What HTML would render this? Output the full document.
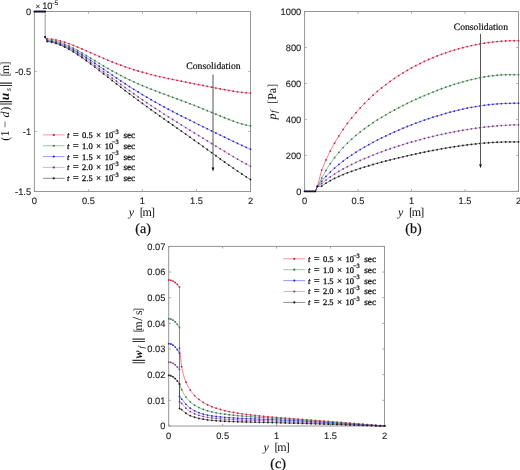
<!DOCTYPE html>
<html><head><meta charset="utf-8"><title>Consolidation plots</title>
<style>
html,body{margin:0;padding:0;background:#fff;width:520px;height:470px;overflow:hidden}
svg{display:block}
text{text-rendering:geometricPrecision}
.tk{font-family:"Liberation Sans",sans-serif;font-size:9.3px;fill:#1e1e1e;stroke:#1e1e1e;stroke-width:0.12px}
.lg{font-family:"Liberation Serif",serif;font-size:8.5px;fill:#111;stroke:#111;stroke-width:0.3px}
.lg .op{font-size:10.5px}
.lg .op2{font-size:9px}
.lg .sup{font-size:6.4px}
.cs{font-family:"Liberation Serif",serif;font-size:9.7px;fill:#111;stroke:#111;stroke-width:0.2px}
.al{font-family:"Liberation Serif",serif;font-size:12px;fill:#111}
.nm{font-family:"DejaVu Serif",serif;font-size:12.5px;fill:#333}
.cap{font-family:"Liberation Serif",serif;font-size:14px;fill:#111;stroke:#111;stroke-width:0.25px}
</style></head><body>
<svg width="520" height="470" viewBox="0 0 520 470">
<rect width="520" height="470" fill="#fff"/>
<rect x="34.4" y="11.5" width="216.1" height="180" fill="none" stroke="#969696" stroke-width="1"/>
<path d="M34.4,191.5v-2.2M34.4,11.5v2.2" stroke="#969696" stroke-width="0.8"/>
<text x="34.4" y="204.3" class="tk" text-anchor="middle">0</text>
<path d="M88.42,191.5v-2.2M88.42,11.5v2.2" stroke="#969696" stroke-width="0.8"/>
<text x="88.42" y="204.3" class="tk" text-anchor="middle">0.5</text>
<path d="M142.45,191.5v-2.2M142.45,11.5v2.2" stroke="#969696" stroke-width="0.8"/>
<text x="142.45" y="204.3" class="tk" text-anchor="middle">1</text>
<path d="M196.47,191.5v-2.2M196.47,11.5v2.2" stroke="#969696" stroke-width="0.8"/>
<text x="196.47" y="204.3" class="tk" text-anchor="middle">1.5</text>
<path d="M250.5,191.5v-2.2M250.5,11.5v2.2" stroke="#969696" stroke-width="0.8"/>
<text x="250.5" y="204.3" class="tk" text-anchor="middle">2</text>
<path d="M34.4,11.5h2.2M250.5,11.5h-2.2" stroke="#969696" stroke-width="0.8"/>
<text x="31.1" y="14.9" class="tk" text-anchor="end">0</text>
<path d="M34.4,71.5h2.2M250.5,71.5h-2.2" stroke="#969696" stroke-width="0.8"/>
<text x="31.1" y="74.9" class="tk" text-anchor="end">-0.5</text>
<path d="M34.4,131.5h2.2M250.5,131.5h-2.2" stroke="#969696" stroke-width="0.8"/>
<text x="31.1" y="134.9" class="tk" text-anchor="end">-1</text>
<path d="M34.4,191.5h2.2M250.5,191.5h-2.2" stroke="#969696" stroke-width="0.8"/>
<text x="31.1" y="194.9" class="tk" text-anchor="end">-1.5</text>
<path d="M45.2,36.94 47.37,38.86 48.39,38.91 49.41,38.98 50.43,39.07 51.45,39.19 52.47,39.32 53.49,39.47 54.51,39.65 55.53,39.84 56.55,40.05 57.57,40.27 58.59,40.51 59.62,40.76 60.64,41.03 61.66,41.32 62.68,41.61 63.7,41.92 64.72,42.24 65.74,42.57 66.76,42.92 67.78,43.27 68.8,43.63 69.82,44 70.84,44.38 71.86,44.77 72.89,45.16 73.91,45.56 74.93,45.97 75.95,46.38 76.97,46.8 77.99,47.22 79.01,47.65 80.03,48.08 81.05,48.52 82.07,48.96 83.09,49.4 84.11,49.84 85.13,50.29 86.16,50.74 87.18,51.19 88.2,51.64 89.22,52.09 90.24,52.54 91.26,53 92.28,53.45 93.3,53.9 94.32,54.35 95.34,54.81 96.36,55.26 97.38,55.7 98.4,56.15 99.43,56.6 100.45,57.04 101.47,57.48 102.49,57.92 103.51,58.36 104.53,58.79 105.55,59.22 106.57,59.65 107.59,60.08 108.61,60.5 109.63,60.92 110.65,61.34 111.67,61.75 112.7,62.16 113.72,62.56 114.74,62.96 115.76,63.36 116.78,63.75 117.8,64.14 118.82,64.53 119.84,64.91 120.86,65.28 121.88,65.66 122.9,66.02 123.92,66.39 124.94,66.75 125.97,67.1 126.99,67.45 128.01,67.8 129.03,68.14 130.05,68.48 131.07,68.82 132.09,69.15 133.11,69.47 134.13,69.79 135.15,70.11 136.17,70.42 137.19,70.73 138.21,71.04 139.24,71.34 140.26,71.64 141.28,71.93 142.3,72.22 143.32,72.5 144.34,72.79 145.36,73.06 146.38,73.34 147.4,73.61 148.42,73.88 149.44,74.14 150.46,74.4 151.48,74.66 152.51,74.92 153.53,75.17 154.55,75.42 155.57,75.66 156.59,75.91 157.61,76.15 158.63,76.38 159.65,76.62 160.67,76.85 161.69,77.09 162.71,77.31 163.73,77.54 164.75,77.77 165.78,77.99 166.8,78.21 167.82,78.43 168.84,78.65 169.86,78.86 170.88,79.08 171.9,79.29 172.92,79.5 173.94,79.71 174.96,79.92 175.98,80.13 177,80.34 178.03,80.55 179.05,80.75 180.07,80.96 181.09,81.16 182.11,81.37 183.13,81.57 184.15,81.77 185.17,81.98 186.19,82.18 187.21,82.38 188.23,82.58 189.25,82.79 190.27,82.99 191.3,83.19 192.32,83.39 193.34,83.59 194.36,83.79 195.38,84 196.4,84.2 197.42,84.4 198.44,84.6 199.46,84.8 200.48,85.01 201.5,85.21 202.52,85.41 203.54,85.61 204.57,85.81 205.59,86.02 206.61,86.22 207.63,86.42 208.65,86.62 209.67,86.82 210.69,87.03 211.71,87.23 212.73,87.43 213.75,87.63 214.77,87.83 215.79,88.03 216.81,88.22 217.84,88.42 218.86,88.62 219.88,88.81 220.9,89.01 221.92,89.2 222.94,89.39 223.96,89.58 224.98,89.76 226,89.95 227.02,90.13 228.04,90.31 229.06,90.49 230.08,90.66 231.11,90.83 232.13,91 233.15,91.16 234.17,91.32 235.19,91.48 236.21,91.63 237.23,91.77 238.25,91.92 239.27,92.05 240.29,92.18 241.31,92.3 242.33,92.42 243.35,92.53 244.38,92.63 245.4,92.73 246.42,92.82 247.44,92.9 248.46,92.97 249.48,93.03 250.5,93.08" fill="none" stroke="#f04060" stroke-width="0.8" stroke-opacity="0.85"/>
<path d="M45.2,36.94 47.37,40.13 48.39,40.14 49.41,40.18 50.43,40.26 51.45,40.37 52.47,40.5 53.49,40.67 54.51,40.86 55.53,41.08 56.55,41.33 57.57,41.6 58.59,41.9 59.62,42.21 60.64,42.55 61.66,42.91 62.68,43.29 63.7,43.68 64.72,44.1 65.74,44.53 66.76,44.98 67.78,45.44 68.8,45.91 69.82,46.4 70.84,46.9 71.86,47.42 72.89,47.94 73.91,48.48 74.93,49.02 75.95,49.57 76.97,50.13 77.99,50.7 79.01,51.28 80.03,51.86 81.05,52.45 82.07,53.04 83.09,53.64 84.11,54.25 85.13,54.85 86.16,55.46 87.18,56.07 88.2,56.69 89.22,57.3 90.24,57.92 91.26,58.54 92.28,59.16 93.3,59.78 94.32,60.39 95.34,61.01 96.36,61.63 97.38,62.25 98.4,62.86 99.43,63.47 100.45,64.08 101.47,64.69 102.49,65.3 103.51,65.9 104.53,66.5 105.55,67.1 106.57,67.69 107.59,68.28 108.61,68.87 109.63,69.45 110.65,70.02 111.67,70.6 112.7,71.17 113.72,71.73 114.74,72.29 115.76,72.85 116.78,73.4 117.8,73.94 118.82,74.49 119.84,75.02 120.86,75.55 121.88,76.08 122.9,76.6 123.92,77.12 124.94,77.63 125.97,78.14 126.99,78.64 128.01,79.13 129.03,79.63 130.05,80.11 131.07,80.59 132.09,81.07 133.11,81.54 134.13,82.01 135.15,82.47 136.17,82.93 137.19,83.39 138.21,83.84 139.24,84.28 140.26,84.72 141.28,85.16 142.3,85.59 143.32,86.02 144.34,86.45 145.36,86.87 146.38,87.29 147.4,87.71 148.42,88.12 149.44,88.53 150.46,88.93 151.48,89.33 152.51,89.73 153.53,90.13 154.55,90.53 155.57,90.92 156.59,91.31 157.61,91.7 158.63,92.09 159.65,92.47 160.67,92.86 161.69,93.24 162.71,93.62 163.73,94 164.75,94.38 165.78,94.75 166.8,95.13 167.82,95.51 168.84,95.88 169.86,96.26 170.88,96.63 171.9,97.01 172.92,97.39 173.94,97.76 174.96,98.14 175.98,98.51 177,98.89 178.03,99.27 179.05,99.65 180.07,100.03 181.09,100.41 182.11,100.79 183.13,101.17 184.15,101.55 185.17,101.94 186.19,102.32 187.21,102.71 188.23,103.1 189.25,103.49 190.27,103.88 191.3,104.28 192.32,104.67 193.34,105.07 194.36,105.47 195.38,105.87 196.4,106.27 197.42,106.68 198.44,107.08 199.46,107.49 200.48,107.9 201.5,108.31 202.52,108.72 203.54,109.14 204.57,109.55 205.59,109.97 206.61,110.39 207.63,110.81 208.65,111.23 209.67,111.65 210.69,112.07 211.71,112.49 212.73,112.91 213.75,113.33 214.77,113.75 215.79,114.18 216.81,114.6 217.84,115.02 218.86,115.44 219.88,115.86 220.9,116.28 221.92,116.69 222.94,117.1 223.96,117.52 224.98,117.92 226,118.33 227.02,118.73 228.04,119.13 229.06,119.53 230.08,119.92 231.11,120.3 232.13,120.68 233.15,121.05 234.17,121.42 235.19,121.78 236.21,122.14 237.23,122.48 238.25,122.82 239.27,123.15 240.29,123.47 241.31,123.77 242.33,124.07 243.35,124.36 244.38,124.63 245.4,124.89 246.42,125.14 247.44,125.37 248.46,125.59 249.48,125.8 250.5,125.98" fill="none" stroke="#50a060" stroke-width="0.8" stroke-opacity="0.85"/>
<path d="M45.2,36.94 47.37,40.85 48.39,40.93 49.41,41.04 50.43,41.18 51.45,41.34 52.47,41.53 53.49,41.74 54.51,41.98 55.53,42.24 56.55,42.52 57.57,42.82 58.59,43.15 59.62,43.49 60.64,43.86 61.66,44.24 62.68,44.64 63.7,45.05 64.72,45.49 65.74,45.94 66.76,46.4 67.78,46.88 68.8,47.38 69.82,47.88 70.84,48.4 71.86,48.94 72.89,49.48 73.91,50.04 74.93,50.61 75.95,51.18 76.97,51.77 77.99,52.37 79.01,52.97 80.03,53.58 81.05,54.21 82.07,54.84 83.09,55.47 84.11,56.11 85.13,56.76 86.16,57.42 87.18,58.08 88.2,58.74 89.22,59.41 90.24,60.09 91.26,60.77 92.28,61.45 93.3,62.13 94.32,62.82 95.34,63.51 96.36,64.2 97.38,64.9 98.4,65.6 99.43,66.29 100.45,66.99 101.47,67.69 102.49,68.39 103.51,69.1 104.53,69.8 105.55,70.5 106.57,71.2 107.59,71.9 108.61,72.61 109.63,73.31 110.65,74 111.67,74.7 112.7,75.4 113.72,76.1 114.74,76.79 115.76,77.48 116.78,78.17 117.8,78.86 118.82,79.55 119.84,80.23 120.86,80.91 121.88,81.59 122.9,82.27 123.92,82.94 124.94,83.61 125.97,84.28 126.99,84.94 128.01,85.61 129.03,86.27 130.05,86.92 131.07,87.58 132.09,88.23 133.11,88.87 134.13,89.52 135.15,90.16 136.17,90.79 137.19,91.43 138.21,92.06 139.24,92.68 140.26,93.31 141.28,93.93 142.3,94.54 143.32,95.16 144.34,95.77 145.36,96.37 146.38,96.98 147.4,97.58 148.42,98.18 149.44,98.77 150.46,99.36 151.48,99.95 152.51,100.53 153.53,101.11 154.55,101.69 155.57,102.26 156.59,102.84 157.61,103.4 158.63,103.97 159.65,104.53 160.67,105.09 161.69,105.65 162.71,106.21 163.73,106.76 164.75,107.31 165.78,107.86 166.8,108.4 167.82,108.94 168.84,109.48 169.86,110.02 170.88,110.56 171.9,111.09 172.92,111.62 173.94,112.15 174.96,112.68 175.98,113.2 177,113.73 178.03,114.25 179.05,114.77 180.07,115.29 181.09,115.81 182.11,116.33 183.13,116.84 184.15,117.36 185.17,117.87 186.19,118.38 187.21,118.89 188.23,119.4 189.25,119.91 190.27,120.41 191.3,120.92 192.32,121.43 193.34,121.93 194.36,122.44 195.38,122.94 196.4,123.44 197.42,123.95 198.44,124.45 199.46,124.95 200.48,125.45 201.5,125.95 202.52,126.45 203.54,126.95 204.57,127.46 205.59,127.95 206.61,128.45 207.63,128.95 208.65,129.45 209.67,129.95 210.69,130.45 211.71,130.95 212.73,131.45 213.75,131.95 214.77,132.44 215.79,132.94 216.81,133.44 217.84,133.94 218.86,134.43 219.88,134.93 220.9,135.43 221.92,135.92 222.94,136.42 223.96,136.91 224.98,137.41 226,137.9 227.02,138.39 228.04,138.88 229.06,139.38 230.08,139.87 231.11,140.35 232.13,140.84 233.15,141.33 234.17,141.81 235.19,142.3 236.21,142.78 237.23,143.26 238.25,143.74 239.27,144.21 240.29,144.69 241.31,145.16 242.33,145.63 243.35,146.09 244.38,146.56 245.4,147.02 246.42,147.47 247.44,147.93 248.46,148.38 249.48,148.82 250.5,149.26" fill="none" stroke="#4848f0" stroke-width="0.8" stroke-opacity="0.85"/>
<path d="M45.2,36.94 47.37,41.18 48.39,41.28 49.41,41.42 50.43,41.58 51.45,41.77 52.47,41.98 53.49,42.22 54.51,42.48 55.53,42.77 56.55,43.08 57.57,43.42 58.59,43.77 59.62,44.14 60.64,44.54 61.66,44.95 62.68,45.39 63.7,45.84 64.72,46.3 65.74,46.79 66.76,47.29 67.78,47.8 68.8,48.33 69.82,48.88 70.84,49.43 71.86,50.01 72.89,50.59 73.91,51.18 74.93,51.79 75.95,52.41 76.97,53.03 77.99,53.67 79.01,54.32 80.03,54.97 81.05,55.64 82.07,56.31 83.09,56.99 84.11,57.68 85.13,58.37 86.16,59.07 87.18,59.78 88.2,60.49 89.22,61.2 90.24,61.93 91.26,62.65 92.28,63.38 93.3,64.12 94.32,64.85 95.34,65.59 96.36,66.34 97.38,67.08 98.4,67.83 99.43,68.58 100.45,69.34 101.47,70.09 102.49,70.85 103.51,71.6 104.53,72.36 105.55,73.12 106.57,73.88 107.59,74.64 108.61,75.4 109.63,76.15 110.65,76.91 111.67,77.67 112.7,78.43 113.72,79.19 114.74,79.94 115.76,80.7 116.78,81.45 117.8,82.2 118.82,82.95 119.84,83.7 120.86,84.45 121.88,85.2 122.9,85.94 123.92,86.68 124.94,87.42 125.97,88.16 126.99,88.9 128.01,89.63 129.03,90.36 130.05,91.09 131.07,91.82 132.09,92.55 133.11,93.27 134.13,93.99 135.15,94.7 136.17,95.42 137.19,96.13 138.21,96.84 139.24,97.55 140.26,98.26 141.28,98.96 142.3,99.66 143.32,100.36 144.34,101.05 145.36,101.74 146.38,102.43 147.4,103.12 148.42,103.81 149.44,104.49 150.46,105.17 151.48,105.85 152.51,106.52 153.53,107.2 154.55,107.87 155.57,108.54 156.59,109.21 157.61,109.87 158.63,110.53 159.65,111.19 160.67,111.85 161.69,112.51 162.71,113.17 163.73,113.82 164.75,114.47 165.78,115.12 166.8,115.77 167.82,116.42 168.84,117.07 169.86,117.71 170.88,118.35 171.9,119 172.92,119.64 173.94,120.28 174.96,120.92 175.98,121.55 177,122.19 178.03,122.83 179.05,123.46 180.07,124.1 181.09,124.73 182.11,125.36 183.13,125.99 184.15,126.62 185.17,127.26 186.19,127.89 187.21,128.52 188.23,129.15 189.25,129.77 190.27,130.4 191.3,131.03 192.32,131.66 193.34,132.29 194.36,132.92 195.38,133.55 196.4,134.17 197.42,134.8 198.44,135.43 199.46,136.06 200.48,136.68 201.5,137.31 202.52,137.94 203.54,138.57 204.57,139.19 205.59,139.82 206.61,140.45 207.63,141.08 208.65,141.7 209.67,142.33 210.69,142.96 211.71,143.58 212.73,144.21 213.75,144.84 214.77,145.46 215.79,146.09 216.81,146.71 217.84,147.34 218.86,147.96 219.88,148.58 220.9,149.21 221.92,149.83 222.94,150.45 223.96,151.07 224.98,151.69 226,152.3 227.02,152.92 228.04,153.53 229.06,154.15 230.08,154.76 231.11,155.37 232.13,155.97 233.15,156.58 234.17,157.18 235.19,157.78 236.21,158.37 237.23,158.97 238.25,159.56 239.27,160.14 240.29,160.73 241.31,161.3 242.33,161.88 243.35,162.45 244.38,163.01 245.4,163.57 246.42,164.13 247.44,164.68 248.46,165.22 249.48,165.76 250.5,166.29" fill="none" stroke="#b878c8" stroke-width="0.8" stroke-opacity="0.85"/>
<path d="M45.2,36.94 47.37,41.55 48.39,41.67 49.41,41.82 50.43,42 51.45,42.2 52.47,42.44 53.49,42.7 54.51,42.98 55.53,43.29 56.55,43.63 57.57,43.99 58.59,44.37 59.62,44.77 60.64,45.19 61.66,45.63 62.68,46.09 63.7,46.57 64.72,47.07 65.74,47.59 66.76,48.12 67.78,48.67 68.8,49.23 69.82,49.81 70.84,50.4 71.86,51 72.89,51.62 73.91,52.25 74.93,52.89 75.95,53.54 76.97,54.21 77.99,54.88 79.01,55.56 80.03,56.25 81.05,56.95 82.07,57.66 83.09,58.38 84.11,59.1 85.13,59.83 86.16,60.57 87.18,61.31 88.2,62.06 89.22,62.82 90.24,63.57 91.26,64.34 92.28,65.1 93.3,65.88 94.32,66.65 95.34,67.43 96.36,68.21 97.38,68.99 98.4,69.78 99.43,70.57 100.45,71.36 101.47,72.15 102.49,72.94 103.51,73.74 104.53,74.53 105.55,75.33 106.57,76.12 107.59,76.92 108.61,77.72 109.63,78.52 110.65,79.31 111.67,80.11 112.7,80.9 113.72,81.7 114.74,82.49 115.76,83.29 116.78,84.08 117.8,84.87 118.82,85.66 119.84,86.45 120.86,87.24 121.88,88.02 122.9,88.81 123.92,89.59 124.94,90.37 125.97,91.15 126.99,91.93 128.01,92.7 129.03,93.48 130.05,94.25 131.07,95.02 132.09,95.79 133.11,96.55 134.13,97.32 135.15,98.08 136.17,98.84 137.19,99.6 138.21,100.36 139.24,101.11 140.26,101.86 141.28,102.61 142.3,103.36 143.32,104.11 144.34,104.85 145.36,105.59 146.38,106.34 147.4,107.08 148.42,107.81 149.44,108.55 150.46,109.28 151.48,110.02 152.51,110.75 153.53,111.48 154.55,112.21 155.57,112.94 156.59,113.66 157.61,114.39 158.63,115.11 159.65,115.83 160.67,116.56 161.69,117.28 162.71,118 163.73,118.72 164.75,119.43 165.78,120.15 166.8,120.87 167.82,121.59 168.84,122.3 169.86,123.02 170.88,123.74 171.9,124.45 172.92,125.17 173.94,125.88 174.96,126.6 175.98,127.31 177,128.03 178.03,128.75 179.05,129.46 180.07,130.18 181.09,130.89 182.11,131.61 183.13,132.33 184.15,133.05 185.17,133.77 186.19,134.49 187.21,135.21 188.23,135.93 189.25,136.65 190.27,137.37 191.3,138.09 192.32,138.82 193.34,139.54 194.36,140.26 195.38,140.99 196.4,141.72 197.42,142.45 198.44,143.17 199.46,143.9 200.48,144.63 201.5,145.37 202.52,146.1 203.54,146.83 204.57,147.56 205.59,148.3 206.61,149.03 207.63,149.77 208.65,150.5 209.67,151.24 210.69,151.98 211.71,152.72 212.73,153.45 213.75,154.19 214.77,154.93 215.79,155.67 216.81,156.41 217.84,157.14 218.86,157.88 219.88,158.62 220.9,159.35 221.92,160.09 222.94,160.82 223.96,161.56 224.98,162.29 226,163.02 227.02,163.75 228.04,164.48 229.06,165.2 230.08,165.93 231.11,166.65 232.13,167.36 233.15,168.08 234.17,168.79 235.19,169.5 236.21,170.2 237.23,170.9 238.25,171.6 239.27,172.29 240.29,172.98 241.31,173.66 242.33,174.33 243.35,175 244.38,175.67 245.4,176.32 246.42,176.97 247.44,177.61 248.46,178.25 249.48,178.87 250.5,179.49" fill="none" stroke="#383838" stroke-width="0.8" stroke-opacity="0.85"/>
<path d="M45.2,11.5V36.94" stroke="#909090" stroke-width="0.9" fill="none"/>
<path d="M34.4,11.5H45.2" stroke="#181840" stroke-width="1.1" fill="none"/>
<path d="M44.3,36.94a0.9,0.9 0 1,0 1.8,0a0.9,0.9 0 1,0 -1.8,0M46.47,38.86a0.9,0.9 0 1,0 1.8,0a0.9,0.9 0 1,0 -1.8,0M50.79,39.22a0.9,0.9 0 1,0 1.8,0a0.9,0.9 0 1,0 -1.8,0M55.11,39.93a0.9,0.9 0 1,0 1.8,0a0.9,0.9 0 1,0 -1.8,0M59.43,40.95a0.9,0.9 0 1,0 1.8,0a0.9,0.9 0 1,0 -1.8,0M63.75,42.22a0.9,0.9 0 1,0 1.8,0a0.9,0.9 0 1,0 -1.8,0M68.08,43.69a0.9,0.9 0 1,0 1.8,0a0.9,0.9 0 1,0 -1.8,0M72.4,45.32a0.9,0.9 0 1,0 1.8,0a0.9,0.9 0 1,0 -1.8,0M76.72,47.07a0.9,0.9 0 1,0 1.8,0a0.9,0.9 0 1,0 -1.8,0M81.04,48.9a0.9,0.9 0 1,0 1.8,0a0.9,0.9 0 1,0 -1.8,0M85.36,50.79a0.9,0.9 0 1,0 1.8,0a0.9,0.9 0 1,0 -1.8,0M89.69,52.7a0.9,0.9 0 1,0 1.8,0a0.9,0.9 0 1,0 -1.8,0M94.01,54.61a0.9,0.9 0 1,0 1.8,0a0.9,0.9 0 1,0 -1.8,0M98.33,56.51a0.9,0.9 0 1,0 1.8,0a0.9,0.9 0 1,0 -1.8,0M102.65,58.38a0.9,0.9 0 1,0 1.8,0a0.9,0.9 0 1,0 -1.8,0M106.97,60.2a0.9,0.9 0 1,0 1.8,0a0.9,0.9 0 1,0 -1.8,0M111.3,61.96a0.9,0.9 0 1,0 1.8,0a0.9,0.9 0 1,0 -1.8,0M115.62,63.65a0.9,0.9 0 1,0 1.8,0a0.9,0.9 0 1,0 -1.8,0M119.94,65.27a0.9,0.9 0 1,0 1.8,0a0.9,0.9 0 1,0 -1.8,0M124.26,66.82a0.9,0.9 0 1,0 1.8,0a0.9,0.9 0 1,0 -1.8,0M128.58,68.3a0.9,0.9 0 1,0 1.8,0a0.9,0.9 0 1,0 -1.8,0M132.91,69.69a0.9,0.9 0 1,0 1.8,0a0.9,0.9 0 1,0 -1.8,0M137.23,71.01a0.9,0.9 0 1,0 1.8,0a0.9,0.9 0 1,0 -1.8,0M141.55,72.26a0.9,0.9 0 1,0 1.8,0a0.9,0.9 0 1,0 -1.8,0M145.87,73.44a0.9,0.9 0 1,0 1.8,0a0.9,0.9 0 1,0 -1.8,0M150.19,74.56a0.9,0.9 0 1,0 1.8,0a0.9,0.9 0 1,0 -1.8,0M154.52,75.63a0.9,0.9 0 1,0 1.8,0a0.9,0.9 0 1,0 -1.8,0M158.84,76.64a0.9,0.9 0 1,0 1.8,0a0.9,0.9 0 1,0 -1.8,0M163.16,77.61a0.9,0.9 0 1,0 1.8,0a0.9,0.9 0 1,0 -1.8,0M167.48,78.55a0.9,0.9 0 1,0 1.8,0a0.9,0.9 0 1,0 -1.8,0M171.8,79.46a0.9,0.9 0 1,0 1.8,0a0.9,0.9 0 1,0 -1.8,0M176.13,80.34a0.9,0.9 0 1,0 1.8,0a0.9,0.9 0 1,0 -1.8,0M180.45,81.21a0.9,0.9 0 1,0 1.8,0a0.9,0.9 0 1,0 -1.8,0M184.77,82.08a0.9,0.9 0 1,0 1.8,0a0.9,0.9 0 1,0 -1.8,0M189.09,82.93a0.9,0.9 0 1,0 1.8,0a0.9,0.9 0 1,0 -1.8,0M193.41,83.79a0.9,0.9 0 1,0 1.8,0a0.9,0.9 0 1,0 -1.8,0M197.74,84.64a0.9,0.9 0 1,0 1.8,0a0.9,0.9 0 1,0 -1.8,0M202.06,85.5a0.9,0.9 0 1,0 1.8,0a0.9,0.9 0 1,0 -1.8,0M206.38,86.35a0.9,0.9 0 1,0 1.8,0a0.9,0.9 0 1,0 -1.8,0M210.7,87.21a0.9,0.9 0 1,0 1.8,0a0.9,0.9 0 1,0 -1.8,0M215.02,88.05a0.9,0.9 0 1,0 1.8,0a0.9,0.9 0 1,0 -1.8,0M219.35,88.88a0.9,0.9 0 1,0 1.8,0a0.9,0.9 0 1,0 -1.8,0M223.67,89.69a0.9,0.9 0 1,0 1.8,0a0.9,0.9 0 1,0 -1.8,0M227.99,90.46a0.9,0.9 0 1,0 1.8,0a0.9,0.9 0 1,0 -1.8,0M232.31,91.17a0.9,0.9 0 1,0 1.8,0a0.9,0.9 0 1,0 -1.8,0M236.63,91.82a0.9,0.9 0 1,0 1.8,0a0.9,0.9 0 1,0 -1.8,0M240.96,92.37a0.9,0.9 0 1,0 1.8,0a0.9,0.9 0 1,0 -1.8,0M245.28,92.8a0.9,0.9 0 1,0 1.8,0a0.9,0.9 0 1,0 -1.8,0M249.6,93.08a0.9,0.9 0 1,0 1.8,0a0.9,0.9 0 1,0 -1.8,0" fill="#b52a4a"/>
<path d="M44.3,36.94a0.9,0.9 0 1,0 1.8,0a0.9,0.9 0 1,0 -1.8,0M46.47,40.13a0.9,0.9 0 1,0 1.8,0a0.9,0.9 0 1,0 -1.8,0M50.79,40.4a0.9,0.9 0 1,0 1.8,0a0.9,0.9 0 1,0 -1.8,0M55.11,41.2a0.9,0.9 0 1,0 1.8,0a0.9,0.9 0 1,0 -1.8,0M59.43,42.45a0.9,0.9 0 1,0 1.8,0a0.9,0.9 0 1,0 -1.8,0M63.75,44.07a0.9,0.9 0 1,0 1.8,0a0.9,0.9 0 1,0 -1.8,0M68.08,45.99a0.9,0.9 0 1,0 1.8,0a0.9,0.9 0 1,0 -1.8,0M72.4,48.16a0.9,0.9 0 1,0 1.8,0a0.9,0.9 0 1,0 -1.8,0M76.72,50.5a0.9,0.9 0 1,0 1.8,0a0.9,0.9 0 1,0 -1.8,0M81.04,52.97a0.9,0.9 0 1,0 1.8,0a0.9,0.9 0 1,0 -1.8,0M85.36,55.53a0.9,0.9 0 1,0 1.8,0a0.9,0.9 0 1,0 -1.8,0M89.69,58.13a0.9,0.9 0 1,0 1.8,0a0.9,0.9 0 1,0 -1.8,0M94.01,60.75a0.9,0.9 0 1,0 1.8,0a0.9,0.9 0 1,0 -1.8,0M98.33,63.36a0.9,0.9 0 1,0 1.8,0a0.9,0.9 0 1,0 -1.8,0M102.65,65.93a0.9,0.9 0 1,0 1.8,0a0.9,0.9 0 1,0 -1.8,0M106.97,68.44a0.9,0.9 0 1,0 1.8,0a0.9,0.9 0 1,0 -1.8,0M111.3,70.89a0.9,0.9 0 1,0 1.8,0a0.9,0.9 0 1,0 -1.8,0M115.62,73.26a0.9,0.9 0 1,0 1.8,0a0.9,0.9 0 1,0 -1.8,0M119.94,75.54a0.9,0.9 0 1,0 1.8,0a0.9,0.9 0 1,0 -1.8,0M124.26,77.74a0.9,0.9 0 1,0 1.8,0a0.9,0.9 0 1,0 -1.8,0M128.58,79.84a0.9,0.9 0 1,0 1.8,0a0.9,0.9 0 1,0 -1.8,0M132.91,81.86a0.9,0.9 0 1,0 1.8,0a0.9,0.9 0 1,0 -1.8,0M137.23,83.8a0.9,0.9 0 1,0 1.8,0a0.9,0.9 0 1,0 -1.8,0M141.55,85.66a0.9,0.9 0 1,0 1.8,0a0.9,0.9 0 1,0 -1.8,0M145.87,87.45a0.9,0.9 0 1,0 1.8,0a0.9,0.9 0 1,0 -1.8,0M150.19,89.18a0.9,0.9 0 1,0 1.8,0a0.9,0.9 0 1,0 -1.8,0M154.52,90.86a0.9,0.9 0 1,0 1.8,0a0.9,0.9 0 1,0 -1.8,0M158.84,92.5a0.9,0.9 0 1,0 1.8,0a0.9,0.9 0 1,0 -1.8,0M163.16,94.12a0.9,0.9 0 1,0 1.8,0a0.9,0.9 0 1,0 -1.8,0M167.48,95.72a0.9,0.9 0 1,0 1.8,0a0.9,0.9 0 1,0 -1.8,0M171.8,97.31a0.9,0.9 0 1,0 1.8,0a0.9,0.9 0 1,0 -1.8,0M176.13,98.9a0.9,0.9 0 1,0 1.8,0a0.9,0.9 0 1,0 -1.8,0M180.45,100.5a0.9,0.9 0 1,0 1.8,0a0.9,0.9 0 1,0 -1.8,0M184.77,102.13a0.9,0.9 0 1,0 1.8,0a0.9,0.9 0 1,0 -1.8,0M189.09,103.78a0.9,0.9 0 1,0 1.8,0a0.9,0.9 0 1,0 -1.8,0M193.41,105.45a0.9,0.9 0 1,0 1.8,0a0.9,0.9 0 1,0 -1.8,0M197.74,107.16a0.9,0.9 0 1,0 1.8,0a0.9,0.9 0 1,0 -1.8,0M202.06,108.9a0.9,0.9 0 1,0 1.8,0a0.9,0.9 0 1,0 -1.8,0M206.38,110.66a0.9,0.9 0 1,0 1.8,0a0.9,0.9 0 1,0 -1.8,0M210.7,112.44a0.9,0.9 0 1,0 1.8,0a0.9,0.9 0 1,0 -1.8,0M215.02,114.23a0.9,0.9 0 1,0 1.8,0a0.9,0.9 0 1,0 -1.8,0M219.35,116.01a0.9,0.9 0 1,0 1.8,0a0.9,0.9 0 1,0 -1.8,0M223.67,117.76a0.9,0.9 0 1,0 1.8,0a0.9,0.9 0 1,0 -1.8,0M227.99,119.46a0.9,0.9 0 1,0 1.8,0a0.9,0.9 0 1,0 -1.8,0M232.31,121.08a0.9,0.9 0 1,0 1.8,0a0.9,0.9 0 1,0 -1.8,0M236.63,122.58a0.9,0.9 0 1,0 1.8,0a0.9,0.9 0 1,0 -1.8,0M240.96,123.93a0.9,0.9 0 1,0 1.8,0a0.9,0.9 0 1,0 -1.8,0M245.28,125.08a0.9,0.9 0 1,0 1.8,0a0.9,0.9 0 1,0 -1.8,0M249.6,125.98a0.9,0.9 0 1,0 1.8,0a0.9,0.9 0 1,0 -1.8,0" fill="#3f7550"/>
<path d="M44.3,36.94a0.9,0.9 0 1,0 1.8,0a0.9,0.9 0 1,0 -1.8,0M46.47,40.85a0.9,0.9 0 1,0 1.8,0a0.9,0.9 0 1,0 -1.8,0M50.79,41.38a0.9,0.9 0 1,0 1.8,0a0.9,0.9 0 1,0 -1.8,0M55.11,42.37a0.9,0.9 0 1,0 1.8,0a0.9,0.9 0 1,0 -1.8,0M59.43,43.75a0.9,0.9 0 1,0 1.8,0a0.9,0.9 0 1,0 -1.8,0M63.75,45.46a0.9,0.9 0 1,0 1.8,0a0.9,0.9 0 1,0 -1.8,0M68.08,47.46a0.9,0.9 0 1,0 1.8,0a0.9,0.9 0 1,0 -1.8,0M72.4,49.71a0.9,0.9 0 1,0 1.8,0a0.9,0.9 0 1,0 -1.8,0M76.72,52.15a0.9,0.9 0 1,0 1.8,0a0.9,0.9 0 1,0 -1.8,0M81.04,54.75a0.9,0.9 0 1,0 1.8,0a0.9,0.9 0 1,0 -1.8,0M85.36,57.49a0.9,0.9 0 1,0 1.8,0a0.9,0.9 0 1,0 -1.8,0M89.69,60.32a0.9,0.9 0 1,0 1.8,0a0.9,0.9 0 1,0 -1.8,0M94.01,63.22a0.9,0.9 0 1,0 1.8,0a0.9,0.9 0 1,0 -1.8,0M98.33,66.16a0.9,0.9 0 1,0 1.8,0a0.9,0.9 0 1,0 -1.8,0M102.65,69.13a0.9,0.9 0 1,0 1.8,0a0.9,0.9 0 1,0 -1.8,0M106.97,72.1a0.9,0.9 0 1,0 1.8,0a0.9,0.9 0 1,0 -1.8,0M111.3,75.06a0.9,0.9 0 1,0 1.8,0a0.9,0.9 0 1,0 -1.8,0M115.62,78a0.9,0.9 0 1,0 1.8,0a0.9,0.9 0 1,0 -1.8,0M119.94,80.9a0.9,0.9 0 1,0 1.8,0a0.9,0.9 0 1,0 -1.8,0M124.26,83.75a0.9,0.9 0 1,0 1.8,0a0.9,0.9 0 1,0 -1.8,0M128.58,86.56a0.9,0.9 0 1,0 1.8,0a0.9,0.9 0 1,0 -1.8,0M132.91,89.31a0.9,0.9 0 1,0 1.8,0a0.9,0.9 0 1,0 -1.8,0M137.23,92a0.9,0.9 0 1,0 1.8,0a0.9,0.9 0 1,0 -1.8,0M141.55,94.64a0.9,0.9 0 1,0 1.8,0a0.9,0.9 0 1,0 -1.8,0M145.87,97.21a0.9,0.9 0 1,0 1.8,0a0.9,0.9 0 1,0 -1.8,0M150.19,99.72a0.9,0.9 0 1,0 1.8,0a0.9,0.9 0 1,0 -1.8,0M154.52,102.18a0.9,0.9 0 1,0 1.8,0a0.9,0.9 0 1,0 -1.8,0M158.84,104.58a0.9,0.9 0 1,0 1.8,0a0.9,0.9 0 1,0 -1.8,0M163.16,106.93a0.9,0.9 0 1,0 1.8,0a0.9,0.9 0 1,0 -1.8,0M167.48,109.24a0.9,0.9 0 1,0 1.8,0a0.9,0.9 0 1,0 -1.8,0M171.8,111.51a0.9,0.9 0 1,0 1.8,0a0.9,0.9 0 1,0 -1.8,0M176.13,113.74a0.9,0.9 0 1,0 1.8,0a0.9,0.9 0 1,0 -1.8,0M180.45,115.94a0.9,0.9 0 1,0 1.8,0a0.9,0.9 0 1,0 -1.8,0M184.77,118.12a0.9,0.9 0 1,0 1.8,0a0.9,0.9 0 1,0 -1.8,0M189.09,120.27a0.9,0.9 0 1,0 1.8,0a0.9,0.9 0 1,0 -1.8,0M193.41,122.42a0.9,0.9 0 1,0 1.8,0a0.9,0.9 0 1,0 -1.8,0M197.74,124.55a0.9,0.9 0 1,0 1.8,0a0.9,0.9 0 1,0 -1.8,0M202.06,126.67a0.9,0.9 0 1,0 1.8,0a0.9,0.9 0 1,0 -1.8,0M206.38,128.78a0.9,0.9 0 1,0 1.8,0a0.9,0.9 0 1,0 -1.8,0M210.7,130.9a0.9,0.9 0 1,0 1.8,0a0.9,0.9 0 1,0 -1.8,0M215.02,133.01a0.9,0.9 0 1,0 1.8,0a0.9,0.9 0 1,0 -1.8,0M219.35,135.11a0.9,0.9 0 1,0 1.8,0a0.9,0.9 0 1,0 -1.8,0M223.67,137.21a0.9,0.9 0 1,0 1.8,0a0.9,0.9 0 1,0 -1.8,0M227.99,139.29a0.9,0.9 0 1,0 1.8,0a0.9,0.9 0 1,0 -1.8,0M232.31,141.36a0.9,0.9 0 1,0 1.8,0a0.9,0.9 0 1,0 -1.8,0M236.63,143.4a0.9,0.9 0 1,0 1.8,0a0.9,0.9 0 1,0 -1.8,0M240.96,145.41a0.9,0.9 0 1,0 1.8,0a0.9,0.9 0 1,0 -1.8,0M245.28,147.37a0.9,0.9 0 1,0 1.8,0a0.9,0.9 0 1,0 -1.8,0M249.6,149.26a0.9,0.9 0 1,0 1.8,0a0.9,0.9 0 1,0 -1.8,0" fill="#2e2eb0"/>
<path d="M44.3,36.94a0.9,0.9 0 1,0 1.8,0a0.9,0.9 0 1,0 -1.8,0M46.47,41.18a0.9,0.9 0 1,0 1.8,0a0.9,0.9 0 1,0 -1.8,0M50.79,41.81a0.9,0.9 0 1,0 1.8,0a0.9,0.9 0 1,0 -1.8,0M55.11,42.91a0.9,0.9 0 1,0 1.8,0a0.9,0.9 0 1,0 -1.8,0M59.43,44.42a0.9,0.9 0 1,0 1.8,0a0.9,0.9 0 1,0 -1.8,0M63.75,46.27a0.9,0.9 0 1,0 1.8,0a0.9,0.9 0 1,0 -1.8,0M68.08,48.42a0.9,0.9 0 1,0 1.8,0a0.9,0.9 0 1,0 -1.8,0M72.4,50.83a0.9,0.9 0 1,0 1.8,0a0.9,0.9 0 1,0 -1.8,0M76.72,53.44a0.9,0.9 0 1,0 1.8,0a0.9,0.9 0 1,0 -1.8,0M81.04,56.22a0.9,0.9 0 1,0 1.8,0a0.9,0.9 0 1,0 -1.8,0M85.36,59.14a0.9,0.9 0 1,0 1.8,0a0.9,0.9 0 1,0 -1.8,0M89.69,62.17a0.9,0.9 0 1,0 1.8,0a0.9,0.9 0 1,0 -1.8,0M94.01,65.28a0.9,0.9 0 1,0 1.8,0a0.9,0.9 0 1,0 -1.8,0M98.33,68.44a0.9,0.9 0 1,0 1.8,0a0.9,0.9 0 1,0 -1.8,0M102.65,71.63a0.9,0.9 0 1,0 1.8,0a0.9,0.9 0 1,0 -1.8,0M106.97,74.85a0.9,0.9 0 1,0 1.8,0a0.9,0.9 0 1,0 -1.8,0M111.3,78.06a0.9,0.9 0 1,0 1.8,0a0.9,0.9 0 1,0 -1.8,0M115.62,81.26a0.9,0.9 0 1,0 1.8,0a0.9,0.9 0 1,0 -1.8,0M119.94,84.43a0.9,0.9 0 1,0 1.8,0a0.9,0.9 0 1,0 -1.8,0M124.26,87.58a0.9,0.9 0 1,0 1.8,0a0.9,0.9 0 1,0 -1.8,0M128.58,90.69a0.9,0.9 0 1,0 1.8,0a0.9,0.9 0 1,0 -1.8,0M132.91,93.76a0.9,0.9 0 1,0 1.8,0a0.9,0.9 0 1,0 -1.8,0M137.23,96.78a0.9,0.9 0 1,0 1.8,0a0.9,0.9 0 1,0 -1.8,0M141.55,99.76a0.9,0.9 0 1,0 1.8,0a0.9,0.9 0 1,0 -1.8,0M145.87,102.7a0.9,0.9 0 1,0 1.8,0a0.9,0.9 0 1,0 -1.8,0M150.19,105.59a0.9,0.9 0 1,0 1.8,0a0.9,0.9 0 1,0 -1.8,0M154.52,108.44a0.9,0.9 0 1,0 1.8,0a0.9,0.9 0 1,0 -1.8,0M158.84,111.25a0.9,0.9 0 1,0 1.8,0a0.9,0.9 0 1,0 -1.8,0M163.16,114.03a0.9,0.9 0 1,0 1.8,0a0.9,0.9 0 1,0 -1.8,0M167.48,116.78a0.9,0.9 0 1,0 1.8,0a0.9,0.9 0 1,0 -1.8,0M171.8,119.5a0.9,0.9 0 1,0 1.8,0a0.9,0.9 0 1,0 -1.8,0M176.13,122.2a0.9,0.9 0 1,0 1.8,0a0.9,0.9 0 1,0 -1.8,0M180.45,124.89a0.9,0.9 0 1,0 1.8,0a0.9,0.9 0 1,0 -1.8,0M184.77,127.56a0.9,0.9 0 1,0 1.8,0a0.9,0.9 0 1,0 -1.8,0M189.09,130.23a0.9,0.9 0 1,0 1.8,0a0.9,0.9 0 1,0 -1.8,0M193.41,132.89a0.9,0.9 0 1,0 1.8,0a0.9,0.9 0 1,0 -1.8,0M197.74,135.55a0.9,0.9 0 1,0 1.8,0a0.9,0.9 0 1,0 -1.8,0M202.06,138.21a0.9,0.9 0 1,0 1.8,0a0.9,0.9 0 1,0 -1.8,0M206.38,140.86a0.9,0.9 0 1,0 1.8,0a0.9,0.9 0 1,0 -1.8,0M210.7,143.52a0.9,0.9 0 1,0 1.8,0a0.9,0.9 0 1,0 -1.8,0M215.02,146.17a0.9,0.9 0 1,0 1.8,0a0.9,0.9 0 1,0 -1.8,0M219.35,148.81a0.9,0.9 0 1,0 1.8,0a0.9,0.9 0 1,0 -1.8,0M223.67,151.44a0.9,0.9 0 1,0 1.8,0a0.9,0.9 0 1,0 -1.8,0M227.99,154.04a0.9,0.9 0 1,0 1.8,0a0.9,0.9 0 1,0 -1.8,0M232.31,156.61a0.9,0.9 0 1,0 1.8,0a0.9,0.9 0 1,0 -1.8,0M236.63,159.14a0.9,0.9 0 1,0 1.8,0a0.9,0.9 0 1,0 -1.8,0M240.96,161.61a0.9,0.9 0 1,0 1.8,0a0.9,0.9 0 1,0 -1.8,0M245.28,164a0.9,0.9 0 1,0 1.8,0a0.9,0.9 0 1,0 -1.8,0M249.6,166.29a0.9,0.9 0 1,0 1.8,0a0.9,0.9 0 1,0 -1.8,0" fill="#744084"/>
<path d="M44.3,36.94a0.9,0.9 0 1,0 1.8,0a0.9,0.9 0 1,0 -1.8,0M46.47,41.55a0.9,0.9 0 1,0 1.8,0a0.9,0.9 0 1,0 -1.8,0M50.79,42.26a0.9,0.9 0 1,0 1.8,0a0.9,0.9 0 1,0 -1.8,0M55.11,43.45a0.9,0.9 0 1,0 1.8,0a0.9,0.9 0 1,0 -1.8,0M59.43,45.06a0.9,0.9 0 1,0 1.8,0a0.9,0.9 0 1,0 -1.8,0M63.75,47.04a0.9,0.9 0 1,0 1.8,0a0.9,0.9 0 1,0 -1.8,0M68.08,49.33a0.9,0.9 0 1,0 1.8,0a0.9,0.9 0 1,0 -1.8,0M72.4,51.87a0.9,0.9 0 1,0 1.8,0a0.9,0.9 0 1,0 -1.8,0M76.72,54.64a0.9,0.9 0 1,0 1.8,0a0.9,0.9 0 1,0 -1.8,0M81.04,57.57a0.9,0.9 0 1,0 1.8,0a0.9,0.9 0 1,0 -1.8,0M85.36,60.65a0.9,0.9 0 1,0 1.8,0a0.9,0.9 0 1,0 -1.8,0M89.69,63.83a0.9,0.9 0 1,0 1.8,0a0.9,0.9 0 1,0 -1.8,0M94.01,67.1a0.9,0.9 0 1,0 1.8,0a0.9,0.9 0 1,0 -1.8,0M98.33,70.42a0.9,0.9 0 1,0 1.8,0a0.9,0.9 0 1,0 -1.8,0M102.65,73.77a0.9,0.9 0 1,0 1.8,0a0.9,0.9 0 1,0 -1.8,0M106.97,77.14a0.9,0.9 0 1,0 1.8,0a0.9,0.9 0 1,0 -1.8,0M111.3,80.51a0.9,0.9 0 1,0 1.8,0a0.9,0.9 0 1,0 -1.8,0M115.62,83.88a0.9,0.9 0 1,0 1.8,0a0.9,0.9 0 1,0 -1.8,0M119.94,87.22a0.9,0.9 0 1,0 1.8,0a0.9,0.9 0 1,0 -1.8,0M124.26,90.54a0.9,0.9 0 1,0 1.8,0a0.9,0.9 0 1,0 -1.8,0M128.58,93.82a0.9,0.9 0 1,0 1.8,0a0.9,0.9 0 1,0 -1.8,0M132.91,97.07a0.9,0.9 0 1,0 1.8,0a0.9,0.9 0 1,0 -1.8,0M137.23,100.29a0.9,0.9 0 1,0 1.8,0a0.9,0.9 0 1,0 -1.8,0M141.55,103.47a0.9,0.9 0 1,0 1.8,0a0.9,0.9 0 1,0 -1.8,0M145.87,106.62a0.9,0.9 0 1,0 1.8,0a0.9,0.9 0 1,0 -1.8,0M150.19,109.74a0.9,0.9 0 1,0 1.8,0a0.9,0.9 0 1,0 -1.8,0M154.52,112.83a0.9,0.9 0 1,0 1.8,0a0.9,0.9 0 1,0 -1.8,0M158.84,115.9a0.9,0.9 0 1,0 1.8,0a0.9,0.9 0 1,0 -1.8,0M163.16,118.95a0.9,0.9 0 1,0 1.8,0a0.9,0.9 0 1,0 -1.8,0M167.48,121.98a0.9,0.9 0 1,0 1.8,0a0.9,0.9 0 1,0 -1.8,0M171.8,125.02a0.9,0.9 0 1,0 1.8,0a0.9,0.9 0 1,0 -1.8,0M176.13,128.04a0.9,0.9 0 1,0 1.8,0a0.9,0.9 0 1,0 -1.8,0M180.45,131.08a0.9,0.9 0 1,0 1.8,0a0.9,0.9 0 1,0 -1.8,0M184.77,134.12a0.9,0.9 0 1,0 1.8,0a0.9,0.9 0 1,0 -1.8,0M189.09,137.17a0.9,0.9 0 1,0 1.8,0a0.9,0.9 0 1,0 -1.8,0M193.41,140.23a0.9,0.9 0 1,0 1.8,0a0.9,0.9 0 1,0 -1.8,0M197.74,143.31a0.9,0.9 0 1,0 1.8,0a0.9,0.9 0 1,0 -1.8,0M202.06,146.41a0.9,0.9 0 1,0 1.8,0a0.9,0.9 0 1,0 -1.8,0M206.38,149.52a0.9,0.9 0 1,0 1.8,0a0.9,0.9 0 1,0 -1.8,0M210.7,152.64a0.9,0.9 0 1,0 1.8,0a0.9,0.9 0 1,0 -1.8,0M215.02,155.76a0.9,0.9 0 1,0 1.8,0a0.9,0.9 0 1,0 -1.8,0M219.35,158.88a0.9,0.9 0 1,0 1.8,0a0.9,0.9 0 1,0 -1.8,0M223.67,161.99a0.9,0.9 0 1,0 1.8,0a0.9,0.9 0 1,0 -1.8,0M227.99,165.08a0.9,0.9 0 1,0 1.8,0a0.9,0.9 0 1,0 -1.8,0M232.31,168.12a0.9,0.9 0 1,0 1.8,0a0.9,0.9 0 1,0 -1.8,0M236.63,171.11a0.9,0.9 0 1,0 1.8,0a0.9,0.9 0 1,0 -1.8,0M240.96,174.02a0.9,0.9 0 1,0 1.8,0a0.9,0.9 0 1,0 -1.8,0M245.28,176.82a0.9,0.9 0 1,0 1.8,0a0.9,0.9 0 1,0 -1.8,0M249.6,179.49a0.9,0.9 0 1,0 1.8,0a0.9,0.9 0 1,0 -1.8,0" fill="#1a1a1a"/>
<path d="M33.45,11.5a0.95,0.95 0 1,0 1.9,0a0.95,0.95 0 1,0 -1.9,0M34.53,11.5a0.95,0.95 0 1,0 1.9,0a0.95,0.95 0 1,0 -1.9,0M35.61,11.5a0.95,0.95 0 1,0 1.9,0a0.95,0.95 0 1,0 -1.9,0M36.69,11.5a0.95,0.95 0 1,0 1.9,0a0.95,0.95 0 1,0 -1.9,0M37.77,11.5a0.95,0.95 0 1,0 1.9,0a0.95,0.95 0 1,0 -1.9,0M38.85,11.5a0.95,0.95 0 1,0 1.9,0a0.95,0.95 0 1,0 -1.9,0M39.93,11.5a0.95,0.95 0 1,0 1.9,0a0.95,0.95 0 1,0 -1.9,0M41.01,11.5a0.95,0.95 0 1,0 1.9,0a0.95,0.95 0 1,0 -1.9,0M42.09,11.5a0.95,0.95 0 1,0 1.9,0a0.95,0.95 0 1,0 -1.9,0M43.17,11.5a0.95,0.95 0 1,0 1.9,0a0.95,0.95 0 1,0 -1.9,0M44.25,11.5a0.95,0.95 0 1,0 1.9,0a0.95,0.95 0 1,0 -1.9,0" fill="#101030"/>
<rect x="304.6" y="11.5" width="213.9" height="179.9" fill="none" stroke="#969696" stroke-width="1"/>
<path d="M304.6,191.4v-2.2M304.6,11.5v2.2" stroke="#969696" stroke-width="0.8"/>
<text x="304.6" y="204.2" class="tk" text-anchor="middle">0</text>
<path d="M358.08,191.4v-2.2M358.08,11.5v2.2" stroke="#969696" stroke-width="0.8"/>
<text x="358.08" y="204.2" class="tk" text-anchor="middle">0.5</text>
<path d="M411.55,191.4v-2.2M411.55,11.5v2.2" stroke="#969696" stroke-width="0.8"/>
<text x="411.55" y="204.2" class="tk" text-anchor="middle">1</text>
<path d="M465.02,191.4v-2.2M465.02,11.5v2.2" stroke="#969696" stroke-width="0.8"/>
<text x="465.02" y="204.2" class="tk" text-anchor="middle">1.5</text>
<path d="M518.5,191.4v-2.2M518.5,11.5v2.2" stroke="#969696" stroke-width="0.8"/>
<text x="518.5" y="204.2" class="tk" text-anchor="middle">2</text>
<path d="M304.6,191.4h2.2M518.5,191.4h-2.2" stroke="#969696" stroke-width="0.8"/>
<text x="301.3" y="194.8" class="tk" text-anchor="end">0</text>
<path d="M304.6,155.42h2.2M518.5,155.42h-2.2" stroke="#969696" stroke-width="0.8"/>
<text x="301.3" y="158.82" class="tk" text-anchor="end">200</text>
<path d="M304.6,119.44h2.2M518.5,119.44h-2.2" stroke="#969696" stroke-width="0.8"/>
<text x="301.3" y="122.84" class="tk" text-anchor="end">400</text>
<path d="M304.6,83.46h2.2M518.5,83.46h-2.2" stroke="#969696" stroke-width="0.8"/>
<text x="301.3" y="86.86" class="tk" text-anchor="end">600</text>
<path d="M304.6,47.48h2.2M518.5,47.48h-2.2" stroke="#969696" stroke-width="0.8"/>
<text x="301.3" y="50.88" class="tk" text-anchor="end">800</text>
<path d="M304.6,11.5h2.2M518.5,11.5h-2.2" stroke="#969696" stroke-width="0.8"/>
<text x="301.3" y="14.9" class="tk" text-anchor="end">1000</text>
<path d="M315.3,191.4 317.43,186.36 318.28,183.11 319.12,179.85 319.96,176.59 320.8,173.33 321.64,170.26 322.48,168.12 323.32,166.05 324.16,164.04 325.01,162.1 325.85,160.21 326.69,158.37 327.53,156.57 328.37,154.83 329.21,153.12 330.05,151.45 330.89,149.82 331.74,148.23 332.58,146.66 333.42,145.13 334.26,143.64 335.1,142.17 335.94,140.73 336.78,139.31 337.62,137.92 338.47,136.56 339.31,135.22 340.15,133.91 340.99,132.62 341.83,131.34 342.67,130.09 343.51,128.87 344.35,127.66 345.2,126.47 346.04,125.29 346.88,124.14 347.72,123 348.56,121.88 349.4,120.78 350.24,119.7 351.09,118.63 351.93,117.57 352.77,116.53 353.61,115.51 354.45,114.5 355.29,113.5 356.13,112.51 356.97,111.54 357.82,110.59 358.66,109.64 359.5,108.71 360.34,107.79 361.18,106.88 362.02,105.99 362.86,105.1 363.7,104.23 364.55,103.36 365.39,102.51 366.23,101.67 367.07,100.84 367.91,100.02 368.75,99.21 369.59,98.41 370.43,97.61 371.28,96.83 372.12,96.06 372.96,95.29 373.8,94.54 374.64,93.79 375.48,93.05 376.32,92.33 377.16,91.6 378.01,90.89 378.85,90.19 379.69,89.49 380.53,88.8 381.37,88.12 382.21,87.44 383.05,86.78 383.9,86.12 384.74,85.47 385.58,84.82 386.42,84.18 387.26,83.55 388.1,82.93 388.94,82.31 389.78,81.7 390.63,81.1 391.47,80.5 392.31,79.91 393.15,79.32 393.99,78.75 394.83,78.17 395.67,77.61 396.51,77.05 397.36,76.49 398.2,75.94 399.04,75.4 399.88,74.86 400.72,74.33 401.56,73.8 402.4,73.28 403.24,72.77 404.09,72.26 404.93,71.75 405.77,71.26 406.61,70.76 407.45,70.27 408.29,69.79 409.13,69.31 409.97,68.84 410.82,68.37 411.66,67.9 412.5,67.45 413.34,66.99 414.18,66.54 415.02,66.1 415.86,65.66 416.71,65.22 417.55,64.79 418.39,64.37 419.23,63.95 420.07,63.53 420.91,63.12 421.75,62.71 422.59,62.31 423.44,61.91 424.28,61.51 425.12,61.12 425.96,60.73 426.8,60.35 427.64,59.97 428.48,59.6 429.32,59.23 430.17,58.87 431.01,58.5 431.85,58.15 432.69,57.79 433.53,57.44 434.37,57.1 435.21,56.76 436.05,56.42 436.9,56.09 437.74,55.76 438.58,55.43 439.42,55.11 440.26,54.79 441.1,54.48 441.94,54.17 442.78,53.86 443.63,53.56 444.47,53.26 445.31,52.97 446.15,52.67 446.99,52.39 447.83,52.1 448.67,51.82 449.52,51.55 450.36,51.27 451.2,51 452.04,50.74 452.88,50.47 453.72,50.22 454.56,49.96 455.4,49.71 456.25,49.46 457.09,49.22 457.93,48.98 458.77,48.74 459.61,48.51 460.45,48.28 461.29,48.05 462.13,47.83 462.98,47.61 463.82,47.39 464.66,47.18 465.5,46.97 466.34,46.76 467.18,46.56 468.02,46.36 468.86,46.17 469.71,45.97 470.55,45.79 471.39,45.6 472.23,45.42 473.07,45.24 473.91,45.07 474.75,44.9 475.59,44.73 476.44,44.56 477.28,44.4 478.12,44.24 478.96,44.09 479.8,43.94 480.64,43.79 481.48,43.65 482.32,43.51 483.17,43.37 484.01,43.24 484.85,43.11 485.69,42.98 486.53,42.86 487.37,42.74 488.21,42.62 489.06,42.5 489.9,42.39 490.74,42.29 491.58,42.18 492.42,42.09 493.26,41.99 494.1,41.9 494.94,41.81 495.79,41.72 496.63,41.64 497.47,41.56 498.31,41.48 499.15,41.41 499.99,41.34 500.83,41.27 501.67,41.21 502.52,41.15 503.36,41.1 504.2,41.05 505.04,41 505.88,40.95 506.72,40.91 507.56,40.87 508.4,40.84 509.25,40.81 510.09,40.78 510.93,40.76 511.77,40.74 512.61,40.72 513.45,40.7 514.29,40.69 515.13,40.69 515.98,40.68 516.82,40.69 517.66,40.69 518.5,40.69" fill="none" stroke="#f04060" stroke-width="0.8" stroke-opacity="0.85"/>
<path d="M315.3,191.4 317.43,186.36 318.28,184.78 319.12,183.19 319.96,181.6 320.8,180.01 321.64,178.41 322.48,176.76 323.32,175.16 324.16,173.61 325.01,172.11 325.85,170.65 326.69,169.23 327.53,167.85 328.37,166.51 329.21,165.21 330.05,163.94 330.89,162.7 331.74,161.49 332.58,160.31 333.42,159.15 334.26,158.03 335.1,156.93 335.94,155.85 336.78,154.8 337.62,153.76 338.47,152.75 339.31,151.76 340.15,150.79 340.99,149.84 341.83,148.91 342.67,147.99 343.51,147.09 344.35,146.21 345.2,145.34 346.04,144.49 346.88,143.65 347.72,142.83 348.56,142.02 349.4,141.22 350.24,140.44 351.09,139.66 351.93,138.9 352.77,138.15 353.61,137.42 354.45,136.69 355.29,135.97 356.13,135.26 356.97,134.56 357.82,133.88 358.66,133.2 359.5,132.52 360.34,131.86 361.18,131.21 362.02,130.56 362.86,129.92 363.7,129.29 364.55,128.67 365.39,128.05 366.23,127.44 367.07,126.84 367.91,126.25 368.75,125.66 369.59,125.07 370.43,124.5 371.28,123.92 372.12,123.36 372.96,122.8 373.8,122.24 374.64,121.69 375.48,121.15 376.32,120.61 377.16,120.07 378.01,119.54 378.85,119.02 379.69,118.5 380.53,117.98 381.37,117.47 382.21,116.96 383.05,116.46 383.9,115.96 384.74,115.46 385.58,114.97 386.42,114.48 387.26,114 388.1,113.52 388.94,113.04 389.78,112.57 390.63,112.1 391.47,111.63 392.31,111.17 393.15,110.71 393.99,110.25 394.83,109.8 395.67,109.35 396.51,108.9 397.36,108.46 398.2,108.01 399.04,107.58 399.88,107.14 400.72,106.71 401.56,106.28 402.4,105.85 403.24,105.42 404.09,105 404.93,104.58 405.77,104.17 406.61,103.75 407.45,103.34 408.29,102.93 409.13,102.53 409.97,102.12 410.82,101.72 411.66,101.32 412.5,100.93 413.34,100.53 414.18,100.14 415.02,99.75 415.86,99.37 416.71,98.98 417.55,98.6 418.39,98.22 419.23,97.85 420.07,97.47 420.91,97.1 421.75,96.73 422.59,96.36 423.44,96 424.28,95.64 425.12,95.28 425.96,94.92 426.8,94.57 427.64,94.21 428.48,93.86 429.32,93.52 430.17,93.17 431.01,92.83 431.85,92.49 432.69,92.15 433.53,91.82 434.37,91.48 435.21,91.15 436.05,90.82 436.9,90.5 437.74,90.18 438.58,89.86 439.42,89.54 440.26,89.22 441.1,88.91 441.94,88.6 442.78,88.29 443.63,87.99 444.47,87.69 445.31,87.39 446.15,87.09 446.99,86.8 447.83,86.51 448.67,86.22 449.52,85.93 450.36,85.65 451.2,85.37 452.04,85.1 452.88,84.82 453.72,84.55 454.56,84.28 455.4,84.02 456.25,83.76 457.09,83.5 457.93,83.24 458.77,82.99 459.61,82.74 460.45,82.49 461.29,82.25 462.13,82.01 462.98,81.77 463.82,81.54 464.66,81.31 465.5,81.08 466.34,80.86 467.18,80.63 468.02,80.42 468.86,80.2 469.71,79.99 470.55,79.79 471.39,79.58 472.23,79.38 473.07,79.19 473.91,79 474.75,78.81 475.59,78.62 476.44,78.44 477.28,78.26 478.12,78.09 478.96,77.92 479.8,77.75 480.64,77.59 481.48,77.43 482.32,77.28 483.17,77.13 484.01,76.98 484.85,76.84 485.69,76.7 486.53,76.57 487.37,76.44 488.21,76.31 489.06,76.19 489.9,76.08 490.74,75.96 491.58,75.85 492.42,75.75 493.26,75.65 494.1,75.56 494.94,75.47 495.79,75.38 496.63,75.3 497.47,75.23 498.31,75.15 499.15,75.09 499.99,75.03 500.83,74.97 501.67,74.92 502.52,74.87 503.36,74.83 504.2,74.79 505.04,74.76 505.88,74.73 506.72,74.71 507.56,74.69 508.4,74.68 509.25,74.67 510.09,74.67 510.93,74.68 511.77,74.68 512.61,74.67 513.45,74.67 514.29,74.68 515.13,74.68 515.98,74.67 516.82,74.67 517.66,74.68 518.5,74.68" fill="none" stroke="#50a060" stroke-width="0.8" stroke-opacity="0.85"/>
<path d="M315.3,191.4 317.43,186.36 318.28,185.39 319.12,184.43 319.96,183.46 320.8,182.49 321.64,181.51 322.48,180.46 323.32,179.45 324.16,178.47 325.01,177.51 325.85,176.58 326.69,175.68 327.53,174.79 328.37,173.93 329.21,173.08 330.05,172.25 330.89,171.44 331.74,170.64 332.58,169.86 333.42,169.1 334.26,168.34 335.1,167.6 335.94,166.88 336.78,166.16 337.62,165.46 338.47,164.77 339.31,164.08 340.15,163.41 340.99,162.75 341.83,162.09 342.67,161.45 343.51,160.81 344.35,160.19 345.2,159.57 346.04,158.95 346.88,158.35 347.72,157.75 348.56,157.16 349.4,156.58 350.24,156 351.09,155.43 351.93,154.87 352.77,154.31 353.61,153.76 354.45,153.21 355.29,152.67 356.13,152.14 356.97,151.61 357.82,151.08 358.66,150.57 359.5,150.05 360.34,149.54 361.18,149.04 362.02,148.53 362.86,148.04 363.7,147.55 364.55,147.06 365.39,146.58 366.23,146.1 367.07,145.62 367.91,145.15 368.75,144.68 369.59,144.22 370.43,143.76 371.28,143.3 372.12,142.85 372.96,142.4 373.8,141.95 374.64,141.51 375.48,141.07 376.32,140.64 377.16,140.2 378.01,139.77 378.85,139.35 379.69,138.92 380.53,138.5 381.37,138.09 382.21,137.67 383.05,137.26 383.9,136.85 384.74,136.44 385.58,136.04 386.42,135.64 387.26,135.24 388.1,134.85 388.94,134.46 389.78,134.07 390.63,133.68 391.47,133.29 392.31,132.91 393.15,132.53 393.99,132.16 394.83,131.78 395.67,131.41 396.51,131.04 397.36,130.67 398.2,130.31 399.04,129.95 399.88,129.59 400.72,129.23 401.56,128.87 402.4,128.52 403.24,128.17 404.09,127.82 404.93,127.48 405.77,127.13 406.61,126.79 407.45,126.45 408.29,126.11 409.13,125.78 409.97,125.45 410.82,125.12 411.66,124.79 412.5,124.46 413.34,124.14 414.18,123.82 415.02,123.5 415.86,123.18 416.71,122.87 417.55,122.56 418.39,122.25 419.23,121.94 420.07,121.63 420.91,121.33 421.75,121.03 422.59,120.73 423.44,120.43 424.28,120.14 425.12,119.85 425.96,119.56 426.8,119.27 427.64,118.98 428.48,118.7 429.32,118.42 430.17,118.14 431.01,117.86 431.85,117.59 432.69,117.32 433.53,117.05 434.37,116.78 435.21,116.52 436.05,116.25 436.9,115.99 437.74,115.73 438.58,115.48 439.42,115.22 440.26,114.97 441.1,114.72 441.94,114.47 442.78,114.23 443.63,113.99 444.47,113.75 445.31,113.51 446.15,113.28 446.99,113.04 447.83,112.81 448.67,112.58 449.52,112.36 450.36,112.13 451.2,111.91 452.04,111.7 452.88,111.48 453.72,111.27 454.56,111.06 455.4,110.85 456.25,110.64 457.09,110.44 457.93,110.24 458.77,110.04 459.61,109.84 460.45,109.65 461.29,109.46 462.13,109.27 462.98,109.08 463.82,108.9 464.66,108.72 465.5,108.54 466.34,108.37 467.18,108.2 468.02,108.03 468.86,107.86 469.71,107.69 470.55,107.53 471.39,107.37 472.23,107.22 473.07,107.06 473.91,106.91 474.75,106.77 475.59,106.62 476.44,106.48 477.28,106.34 478.12,106.2 478.96,106.07 479.8,105.94 480.64,105.81 481.48,105.69 482.32,105.56 483.17,105.44 484.01,105.33 484.85,105.21 485.69,105.1 486.53,105 487.37,104.89 488.21,104.79 489.06,104.69 489.9,104.6 490.74,104.51 491.58,104.42 492.42,104.33 493.26,104.25 494.1,104.17 494.94,104.09 495.79,104.02 496.63,103.95 497.47,103.89 498.31,103.82 499.15,103.76 499.99,103.7 500.83,103.65 501.67,103.6 502.52,103.55 503.36,103.51 504.2,103.47 505.04,103.43 505.88,103.4 506.72,103.37 507.56,103.34 508.4,103.32 509.25,103.3 510.09,103.29 510.93,103.27 511.77,103.26 512.61,103.26 513.45,103.26 514.29,103.26 515.13,103.26 515.98,103.26 516.82,103.26 517.66,103.26 518.5,103.26" fill="none" stroke="#4848f0" stroke-width="0.8" stroke-opacity="0.85"/>
<path d="M315.3,191.4 317.43,186.36 318.28,185.84 319.12,185.32 319.96,184.8 320.8,184.29 321.64,183.72 322.48,182.98 323.32,182.25 324.16,181.55 325.01,180.86 325.85,180.2 326.69,179.55 327.53,178.91 328.37,178.29 329.21,177.68 330.05,177.08 330.89,176.5 331.74,175.93 332.58,175.36 333.42,174.81 334.26,174.26 335.1,173.73 335.94,173.2 336.78,172.68 337.62,172.17 338.47,171.66 339.31,171.16 340.15,170.67 340.99,170.19 341.83,169.71 342.67,169.24 343.51,168.77 344.35,168.31 345.2,167.86 346.04,167.41 346.88,166.96 347.72,166.52 348.56,166.09 349.4,165.66 350.24,165.23 351.09,164.81 351.93,164.39 352.77,163.98 353.61,163.57 354.45,163.17 355.29,162.76 356.13,162.37 356.97,161.97 357.82,161.59 358.66,161.2 359.5,160.82 360.34,160.44 361.18,160.06 362.02,159.69 362.86,159.32 363.7,158.95 364.55,158.59 365.39,158.23 366.23,157.87 367.07,157.52 367.91,157.17 368.75,156.82 369.59,156.47 370.43,156.13 371.28,155.79 372.12,155.45 372.96,155.11 373.8,154.78 374.64,154.45 375.48,154.12 376.32,153.8 377.16,153.47 378.01,153.15 378.85,152.83 379.69,152.52 380.53,152.2 381.37,151.89 382.21,151.58 383.05,151.27 383.9,150.97 384.74,150.67 385.58,150.37 386.42,150.07 387.26,149.77 388.1,149.47 388.94,149.18 389.78,148.89 390.63,148.6 391.47,148.32 392.31,148.03 393.15,147.75 393.99,147.47 394.83,147.19 395.67,146.91 396.51,146.63 397.36,146.36 398.2,146.09 399.04,145.82 399.88,145.55 400.72,145.29 401.56,145.02 402.4,144.76 403.24,144.5 404.09,144.24 404.93,143.98 405.77,143.72 406.61,143.47 407.45,143.22 408.29,142.97 409.13,142.72 409.97,142.47 410.82,142.23 411.66,141.98 412.5,141.74 413.34,141.5 414.18,141.26 415.02,141.03 415.86,140.79 416.71,140.56 417.55,140.32 418.39,140.09 419.23,139.87 420.07,139.64 420.91,139.41 421.75,139.19 422.59,138.97 423.44,138.75 424.28,138.53 425.12,138.31 425.96,138.09 426.8,137.88 427.64,137.67 428.48,137.46 429.32,137.25 430.17,137.04 431.01,136.83 431.85,136.63 432.69,136.43 433.53,136.23 434.37,136.03 435.21,135.83 436.05,135.63 436.9,135.44 437.74,135.25 438.58,135.05 439.42,134.86 440.26,134.68 441.1,134.49 441.94,134.3 442.78,134.12 443.63,133.94 444.47,133.76 445.31,133.58 446.15,133.4 446.99,133.23 447.83,133.06 448.67,132.88 449.52,132.71 450.36,132.55 451.2,132.38 452.04,132.21 452.88,132.05 453.72,131.89 454.56,131.73 455.4,131.57 456.25,131.41 457.09,131.26 457.93,131.1 458.77,130.95 459.61,130.8 460.45,130.65 461.29,130.51 462.13,130.36 462.98,130.22 463.82,130.08 464.66,129.94 465.5,129.8 466.34,129.66 467.18,129.53 468.02,129.39 468.86,129.26 469.71,129.13 470.55,129.01 471.39,128.88 472.23,128.76 473.07,128.63 473.91,128.51 474.75,128.39 475.59,128.28 476.44,128.16 477.28,128.05 478.12,127.94 478.96,127.83 479.8,127.72 480.64,127.61 481.48,127.51 482.32,127.4 483.17,127.3 484.01,127.2 484.85,127.11 485.69,127.01 486.53,126.92 487.37,126.83 488.21,126.74 489.06,126.65 489.9,126.56 490.74,126.48 491.58,126.4 492.42,126.32 493.26,126.24 494.1,126.16 494.94,126.09 495.79,126.01 496.63,125.94 497.47,125.87 498.31,125.81 499.15,125.74 499.99,125.68 500.83,125.62 501.67,125.56 502.52,125.5 503.36,125.45 504.2,125.4 505.04,125.34 505.88,125.3 506.72,125.25 507.56,125.2 508.4,125.16 509.25,125.12 510.09,125.08 510.93,125.04 511.77,125.01 512.61,124.98 513.45,124.95 514.29,124.92 515.13,124.89 515.98,124.87 516.82,124.85 517.66,124.83 518.5,124.81" fill="none" stroke="#b878c8" stroke-width="0.8" stroke-opacity="0.85"/>
<path d="M315.3,191.4 317.43,186.36 318.28,186.33 319.12,186.31 319.96,186.28 320.8,186.25 321.64,186.12 322.48,185.51 323.32,184.92 324.16,184.35 325.01,183.79 325.85,183.25 326.69,182.73 327.53,182.22 328.37,181.73 329.21,181.24 330.05,180.77 330.89,180.31 331.74,179.86 332.58,179.42 333.42,178.99 334.26,178.57 335.1,178.15 335.94,177.75 336.78,177.35 337.62,176.96 338.47,176.57 339.31,176.2 340.15,175.83 340.99,175.46 341.83,175.1 342.67,174.75 343.51,174.4 344.35,174.06 345.2,173.73 346.04,173.39 346.88,173.07 347.72,172.74 348.56,172.42 349.4,172.11 350.24,171.8 351.09,171.49 351.93,171.19 352.77,170.89 353.61,170.59 354.45,170.3 355.29,170.01 356.13,169.73 356.97,169.44 357.82,169.16 358.66,168.88 359.5,168.61 360.34,168.34 361.18,168.07 362.02,167.8 362.86,167.54 363.7,167.27 364.55,167.01 365.39,166.75 366.23,166.5 367.07,166.25 367.91,165.99 368.75,165.74 369.59,165.5 370.43,165.25 371.28,165.01 372.12,164.76 372.96,164.52 373.8,164.28 374.64,164.05 375.48,163.81 376.32,163.58 377.16,163.34 378.01,163.11 378.85,162.88 379.69,162.66 380.53,162.43 381.37,162.2 382.21,161.98 383.05,161.76 383.9,161.53 384.74,161.31 385.58,161.09 386.42,160.88 387.26,160.66 388.1,160.44 388.94,160.23 389.78,160.02 390.63,159.81 391.47,159.59 392.31,159.38 393.15,159.18 393.99,158.97 394.83,158.76 395.67,158.56 396.51,158.35 397.36,158.15 398.2,157.95 399.04,157.74 399.88,157.54 400.72,157.34 401.56,157.15 402.4,156.95 403.24,156.75 404.09,156.56 404.93,156.36 405.77,156.17 406.61,155.98 407.45,155.78 408.29,155.59 409.13,155.4 409.97,155.21 410.82,155.03 411.66,154.84 412.5,154.65 413.34,154.47 414.18,154.29 415.02,154.1 415.86,153.92 416.71,153.74 417.55,153.56 418.39,153.38 419.23,153.2 420.07,153.02 420.91,152.85 421.75,152.67 422.59,152.5 423.44,152.33 424.28,152.15 425.12,151.98 425.96,151.81 426.8,151.64 427.64,151.47 428.48,151.31 429.32,151.14 430.17,150.98 431.01,150.81 431.85,150.65 432.69,150.49 433.53,150.33 434.37,150.17 435.21,150.01 436.05,149.85 436.9,149.69 437.74,149.54 438.58,149.39 439.42,149.23 440.26,149.08 441.1,148.93 441.94,148.78 442.78,148.63 443.63,148.49 444.47,148.34 445.31,148.2 446.15,148.05 446.99,147.91 447.83,147.77 448.67,147.63 449.52,147.49 450.36,147.35 451.2,147.22 452.04,147.09 452.88,146.95 453.72,146.82 454.56,146.69 455.4,146.56 456.25,146.43 457.09,146.31 457.93,146.18 458.77,146.06 459.61,145.94 460.45,145.82 461.29,145.7 462.13,145.58 462.98,145.47 463.82,145.35 464.66,145.24 465.5,145.13 466.34,145.02 467.18,144.91 468.02,144.8 468.86,144.7 469.71,144.6 470.55,144.49 471.39,144.4 472.23,144.3 473.07,144.2 473.91,144.11 474.75,144.01 475.59,143.92 476.44,143.83 477.28,143.74 478.12,143.66 478.96,143.57 479.8,143.49 480.64,143.41 481.48,143.33 482.32,143.25 483.17,143.18 484.01,143.11 484.85,143.04 485.69,142.97 486.53,142.9 487.37,142.83 488.21,142.77 489.06,142.71 489.9,142.65 490.74,142.59 491.58,142.54 492.42,142.48 493.26,142.43 494.1,142.38 494.94,142.34 495.79,142.29 496.63,142.25 497.47,142.21 498.31,142.17 499.15,142.14 499.99,142.1 500.83,142.07 501.67,142.04 502.52,142.01 503.36,141.99 504.2,141.97 505.04,141.95 505.88,141.93 506.72,141.92 507.56,141.9 508.4,141.89 509.25,141.88 510.09,141.88 510.93,141.88 511.77,141.88 512.61,141.88 513.45,141.88 514.29,141.88 515.13,141.88 515.98,141.88 516.82,141.88 517.66,141.88 518.5,141.88" fill="none" stroke="#383838" stroke-width="0.8" stroke-opacity="0.85"/>
<path d="M304.6,191.4H315.3" stroke="#181840" stroke-width="1.1" fill="none"/>
<path d="M316.53,186.36a0.9,0.9 0 1,0 1.8,0a0.9,0.9 0 1,0 -1.8,0M320.81,170.07a0.9,0.9 0 1,0 1.8,0a0.9,0.9 0 1,0 -1.8,0M325.09,159.89a0.9,0.9 0 1,0 1.8,0a0.9,0.9 0 1,0 -1.8,0M329.37,151.03a0.9,0.9 0 1,0 1.8,0a0.9,0.9 0 1,0 -1.8,0M333.65,143.13a0.9,0.9 0 1,0 1.8,0a0.9,0.9 0 1,0 -1.8,0M337.92,135.99a0.9,0.9 0 1,0 1.8,0a0.9,0.9 0 1,0 -1.8,0M342.2,129.46a0.9,0.9 0 1,0 1.8,0a0.9,0.9 0 1,0 -1.8,0M346.48,123.46a0.9,0.9 0 1,0 1.8,0a0.9,0.9 0 1,0 -1.8,0M350.76,117.91a0.9,0.9 0 1,0 1.8,0a0.9,0.9 0 1,0 -1.8,0M355.04,112.74a0.9,0.9 0 1,0 1.8,0a0.9,0.9 0 1,0 -1.8,0M359.31,107.93a0.9,0.9 0 1,0 1.8,0a0.9,0.9 0 1,0 -1.8,0M363.59,103.42a0.9,0.9 0 1,0 1.8,0a0.9,0.9 0 1,0 -1.8,0M367.87,99.19a0.9,0.9 0 1,0 1.8,0a0.9,0.9 0 1,0 -1.8,0M372.15,95.21a0.9,0.9 0 1,0 1.8,0a0.9,0.9 0 1,0 -1.8,0M376.43,91.47a0.9,0.9 0 1,0 1.8,0a0.9,0.9 0 1,0 -1.8,0M380.7,87.93a0.9,0.9 0 1,0 1.8,0a0.9,0.9 0 1,0 -1.8,0M384.98,84.59a0.9,0.9 0 1,0 1.8,0a0.9,0.9 0 1,0 -1.8,0M389.26,81.43a0.9,0.9 0 1,0 1.8,0a0.9,0.9 0 1,0 -1.8,0M393.54,78.44a0.9,0.9 0 1,0 1.8,0a0.9,0.9 0 1,0 -1.8,0M397.82,75.61a0.9,0.9 0 1,0 1.8,0a0.9,0.9 0 1,0 -1.8,0M402.09,72.92a0.9,0.9 0 1,0 1.8,0a0.9,0.9 0 1,0 -1.8,0M406.37,70.38a0.9,0.9 0 1,0 1.8,0a0.9,0.9 0 1,0 -1.8,0M410.65,67.96a0.9,0.9 0 1,0 1.8,0a0.9,0.9 0 1,0 -1.8,0M414.93,65.68a0.9,0.9 0 1,0 1.8,0a0.9,0.9 0 1,0 -1.8,0M419.21,63.51a0.9,0.9 0 1,0 1.8,0a0.9,0.9 0 1,0 -1.8,0M423.48,61.46a0.9,0.9 0 1,0 1.8,0a0.9,0.9 0 1,0 -1.8,0M427.76,59.52a0.9,0.9 0 1,0 1.8,0a0.9,0.9 0 1,0 -1.8,0M432.04,57.69a0.9,0.9 0 1,0 1.8,0a0.9,0.9 0 1,0 -1.8,0M436.32,55.96a0.9,0.9 0 1,0 1.8,0a0.9,0.9 0 1,0 -1.8,0M440.6,54.33a0.9,0.9 0 1,0 1.8,0a0.9,0.9 0 1,0 -1.8,0M444.87,52.8a0.9,0.9 0 1,0 1.8,0a0.9,0.9 0 1,0 -1.8,0M449.15,51.37a0.9,0.9 0 1,0 1.8,0a0.9,0.9 0 1,0 -1.8,0M453.43,50.03a0.9,0.9 0 1,0 1.8,0a0.9,0.9 0 1,0 -1.8,0M457.71,48.78a0.9,0.9 0 1,0 1.8,0a0.9,0.9 0 1,0 -1.8,0M461.99,47.63a0.9,0.9 0 1,0 1.8,0a0.9,0.9 0 1,0 -1.8,0M466.26,46.57a0.9,0.9 0 1,0 1.8,0a0.9,0.9 0 1,0 -1.8,0M470.54,45.59a0.9,0.9 0 1,0 1.8,0a0.9,0.9 0 1,0 -1.8,0M474.82,44.7a0.9,0.9 0 1,0 1.8,0a0.9,0.9 0 1,0 -1.8,0M479.1,43.9a0.9,0.9 0 1,0 1.8,0a0.9,0.9 0 1,0 -1.8,0M483.38,43.19a0.9,0.9 0 1,0 1.8,0a0.9,0.9 0 1,0 -1.8,0M487.65,42.57a0.9,0.9 0 1,0 1.8,0a0.9,0.9 0 1,0 -1.8,0M491.93,42.04a0.9,0.9 0 1,0 1.8,0a0.9,0.9 0 1,0 -1.8,0M496.21,41.59a0.9,0.9 0 1,0 1.8,0a0.9,0.9 0 1,0 -1.8,0M500.49,41.23a0.9,0.9 0 1,0 1.8,0a0.9,0.9 0 1,0 -1.8,0M504.77,40.96a0.9,0.9 0 1,0 1.8,0a0.9,0.9 0 1,0 -1.8,0M509.04,40.78a0.9,0.9 0 1,0 1.8,0a0.9,0.9 0 1,0 -1.8,0M513.32,40.7a0.9,0.9 0 1,0 1.8,0a0.9,0.9 0 1,0 -1.8,0M517.6,40.69a0.9,0.9 0 1,0 1.8,0a0.9,0.9 0 1,0 -1.8,0" fill="#b52a4a"/>
<path d="M316.53,186.36a0.9,0.9 0 1,0 1.8,0a0.9,0.9 0 1,0 -1.8,0M320.81,178.27a0.9,0.9 0 1,0 1.8,0a0.9,0.9 0 1,0 -1.8,0M325.09,170.41a0.9,0.9 0 1,0 1.8,0a0.9,0.9 0 1,0 -1.8,0M329.37,163.62a0.9,0.9 0 1,0 1.8,0a0.9,0.9 0 1,0 -1.8,0M333.65,157.65a0.9,0.9 0 1,0 1.8,0a0.9,0.9 0 1,0 -1.8,0M337.92,152.33a0.9,0.9 0 1,0 1.8,0a0.9,0.9 0 1,0 -1.8,0M342.2,147.53a0.9,0.9 0 1,0 1.8,0a0.9,0.9 0 1,0 -1.8,0M346.48,143.16a0.9,0.9 0 1,0 1.8,0a0.9,0.9 0 1,0 -1.8,0M350.76,139.14a0.9,0.9 0 1,0 1.8,0a0.9,0.9 0 1,0 -1.8,0M355.04,135.43a0.9,0.9 0 1,0 1.8,0a0.9,0.9 0 1,0 -1.8,0M359.31,131.96a0.9,0.9 0 1,0 1.8,0a0.9,0.9 0 1,0 -1.8,0M363.59,128.71a0.9,0.9 0 1,0 1.8,0a0.9,0.9 0 1,0 -1.8,0M367.87,125.64a0.9,0.9 0 1,0 1.8,0a0.9,0.9 0 1,0 -1.8,0M372.15,122.74a0.9,0.9 0 1,0 1.8,0a0.9,0.9 0 1,0 -1.8,0M376.43,119.97a0.9,0.9 0 1,0 1.8,0a0.9,0.9 0 1,0 -1.8,0M380.7,117.33a0.9,0.9 0 1,0 1.8,0a0.9,0.9 0 1,0 -1.8,0M384.98,114.79a0.9,0.9 0 1,0 1.8,0a0.9,0.9 0 1,0 -1.8,0M389.26,112.36a0.9,0.9 0 1,0 1.8,0a0.9,0.9 0 1,0 -1.8,0M393.54,110.01a0.9,0.9 0 1,0 1.8,0a0.9,0.9 0 1,0 -1.8,0M397.82,107.74a0.9,0.9 0 1,0 1.8,0a0.9,0.9 0 1,0 -1.8,0M402.09,105.55a0.9,0.9 0 1,0 1.8,0a0.9,0.9 0 1,0 -1.8,0M406.37,103.43a0.9,0.9 0 1,0 1.8,0a0.9,0.9 0 1,0 -1.8,0M410.65,101.37a0.9,0.9 0 1,0 1.8,0a0.9,0.9 0 1,0 -1.8,0M414.93,99.38a0.9,0.9 0 1,0 1.8,0a0.9,0.9 0 1,0 -1.8,0M419.21,97.46a0.9,0.9 0 1,0 1.8,0a0.9,0.9 0 1,0 -1.8,0M423.48,95.59a0.9,0.9 0 1,0 1.8,0a0.9,0.9 0 1,0 -1.8,0M427.76,93.79a0.9,0.9 0 1,0 1.8,0a0.9,0.9 0 1,0 -1.8,0M432.04,92.05a0.9,0.9 0 1,0 1.8,0a0.9,0.9 0 1,0 -1.8,0M436.32,90.38a0.9,0.9 0 1,0 1.8,0a0.9,0.9 0 1,0 -1.8,0M440.6,88.77a0.9,0.9 0 1,0 1.8,0a0.9,0.9 0 1,0 -1.8,0M444.87,87.22a0.9,0.9 0 1,0 1.8,0a0.9,0.9 0 1,0 -1.8,0M449.15,85.75a0.9,0.9 0 1,0 1.8,0a0.9,0.9 0 1,0 -1.8,0M453.43,84.36a0.9,0.9 0 1,0 1.8,0a0.9,0.9 0 1,0 -1.8,0M457.71,83.04a0.9,0.9 0 1,0 1.8,0a0.9,0.9 0 1,0 -1.8,0M461.99,81.8a0.9,0.9 0 1,0 1.8,0a0.9,0.9 0 1,0 -1.8,0M466.26,80.64a0.9,0.9 0 1,0 1.8,0a0.9,0.9 0 1,0 -1.8,0M470.54,79.57a0.9,0.9 0 1,0 1.8,0a0.9,0.9 0 1,0 -1.8,0M474.82,78.59a0.9,0.9 0 1,0 1.8,0a0.9,0.9 0 1,0 -1.8,0M479.1,77.71a0.9,0.9 0 1,0 1.8,0a0.9,0.9 0 1,0 -1.8,0M483.38,76.94a0.9,0.9 0 1,0 1.8,0a0.9,0.9 0 1,0 -1.8,0M487.65,76.26a0.9,0.9 0 1,0 1.8,0a0.9,0.9 0 1,0 -1.8,0M491.93,75.7a0.9,0.9 0 1,0 1.8,0a0.9,0.9 0 1,0 -1.8,0M496.21,75.26a0.9,0.9 0 1,0 1.8,0a0.9,0.9 0 1,0 -1.8,0M500.49,74.93a0.9,0.9 0 1,0 1.8,0a0.9,0.9 0 1,0 -1.8,0M504.77,74.74a0.9,0.9 0 1,0 1.8,0a0.9,0.9 0 1,0 -1.8,0M509.04,74.67a0.9,0.9 0 1,0 1.8,0a0.9,0.9 0 1,0 -1.8,0M513.32,74.68a0.9,0.9 0 1,0 1.8,0a0.9,0.9 0 1,0 -1.8,0M517.6,74.68a0.9,0.9 0 1,0 1.8,0a0.9,0.9 0 1,0 -1.8,0" fill="#3f7550"/>
<path d="M316.53,186.36a0.9,0.9 0 1,0 1.8,0a0.9,0.9 0 1,0 -1.8,0M320.81,181.42a0.9,0.9 0 1,0 1.8,0a0.9,0.9 0 1,0 -1.8,0M325.09,176.43a0.9,0.9 0 1,0 1.8,0a0.9,0.9 0 1,0 -1.8,0M329.37,172.04a0.9,0.9 0 1,0 1.8,0a0.9,0.9 0 1,0 -1.8,0M333.65,168.09a0.9,0.9 0 1,0 1.8,0a0.9,0.9 0 1,0 -1.8,0M337.92,164.47a0.9,0.9 0 1,0 1.8,0a0.9,0.9 0 1,0 -1.8,0M342.2,161.12a0.9,0.9 0 1,0 1.8,0a0.9,0.9 0 1,0 -1.8,0M346.48,157.99a0.9,0.9 0 1,0 1.8,0a0.9,0.9 0 1,0 -1.8,0M350.76,155.05a0.9,0.9 0 1,0 1.8,0a0.9,0.9 0 1,0 -1.8,0M355.04,152.26a0.9,0.9 0 1,0 1.8,0a0.9,0.9 0 1,0 -1.8,0M359.31,149.62a0.9,0.9 0 1,0 1.8,0a0.9,0.9 0 1,0 -1.8,0M363.59,147.09a0.9,0.9 0 1,0 1.8,0a0.9,0.9 0 1,0 -1.8,0M367.87,144.67a0.9,0.9 0 1,0 1.8,0a0.9,0.9 0 1,0 -1.8,0M372.15,142.35a0.9,0.9 0 1,0 1.8,0a0.9,0.9 0 1,0 -1.8,0M376.43,140.12a0.9,0.9 0 1,0 1.8,0a0.9,0.9 0 1,0 -1.8,0M380.7,137.97a0.9,0.9 0 1,0 1.8,0a0.9,0.9 0 1,0 -1.8,0M384.98,135.9a0.9,0.9 0 1,0 1.8,0a0.9,0.9 0 1,0 -1.8,0M389.26,133.89a0.9,0.9 0 1,0 1.8,0a0.9,0.9 0 1,0 -1.8,0M393.54,131.96a0.9,0.9 0 1,0 1.8,0a0.9,0.9 0 1,0 -1.8,0M397.82,130.08a0.9,0.9 0 1,0 1.8,0a0.9,0.9 0 1,0 -1.8,0M402.09,128.27a0.9,0.9 0 1,0 1.8,0a0.9,0.9 0 1,0 -1.8,0M406.37,126.52a0.9,0.9 0 1,0 1.8,0a0.9,0.9 0 1,0 -1.8,0M410.65,124.83a0.9,0.9 0 1,0 1.8,0a0.9,0.9 0 1,0 -1.8,0M414.93,123.2a0.9,0.9 0 1,0 1.8,0a0.9,0.9 0 1,0 -1.8,0M419.21,121.62a0.9,0.9 0 1,0 1.8,0a0.9,0.9 0 1,0 -1.8,0M423.48,120.1a0.9,0.9 0 1,0 1.8,0a0.9,0.9 0 1,0 -1.8,0M427.76,118.64a0.9,0.9 0 1,0 1.8,0a0.9,0.9 0 1,0 -1.8,0M432.04,117.24a0.9,0.9 0 1,0 1.8,0a0.9,0.9 0 1,0 -1.8,0M436.32,115.89a0.9,0.9 0 1,0 1.8,0a0.9,0.9 0 1,0 -1.8,0M440.6,114.61a0.9,0.9 0 1,0 1.8,0a0.9,0.9 0 1,0 -1.8,0M444.87,113.38a0.9,0.9 0 1,0 1.8,0a0.9,0.9 0 1,0 -1.8,0M449.15,112.22a0.9,0.9 0 1,0 1.8,0a0.9,0.9 0 1,0 -1.8,0M453.43,111.11a0.9,0.9 0 1,0 1.8,0a0.9,0.9 0 1,0 -1.8,0M457.71,110.08a0.9,0.9 0 1,0 1.8,0a0.9,0.9 0 1,0 -1.8,0M461.99,109.1a0.9,0.9 0 1,0 1.8,0a0.9,0.9 0 1,0 -1.8,0M466.26,108.2a0.9,0.9 0 1,0 1.8,0a0.9,0.9 0 1,0 -1.8,0M470.54,107.36a0.9,0.9 0 1,0 1.8,0a0.9,0.9 0 1,0 -1.8,0M474.82,106.6a0.9,0.9 0 1,0 1.8,0a0.9,0.9 0 1,0 -1.8,0M479.1,105.91a0.9,0.9 0 1,0 1.8,0a0.9,0.9 0 1,0 -1.8,0M483.38,105.29a0.9,0.9 0 1,0 1.8,0a0.9,0.9 0 1,0 -1.8,0M487.65,104.75a0.9,0.9 0 1,0 1.8,0a0.9,0.9 0 1,0 -1.8,0M491.93,104.29a0.9,0.9 0 1,0 1.8,0a0.9,0.9 0 1,0 -1.8,0M496.21,103.91a0.9,0.9 0 1,0 1.8,0a0.9,0.9 0 1,0 -1.8,0M500.49,103.62a0.9,0.9 0 1,0 1.8,0a0.9,0.9 0 1,0 -1.8,0M504.77,103.41a0.9,0.9 0 1,0 1.8,0a0.9,0.9 0 1,0 -1.8,0M509.04,103.29a0.9,0.9 0 1,0 1.8,0a0.9,0.9 0 1,0 -1.8,0M513.32,103.26a0.9,0.9 0 1,0 1.8,0a0.9,0.9 0 1,0 -1.8,0M517.6,103.26a0.9,0.9 0 1,0 1.8,0a0.9,0.9 0 1,0 -1.8,0" fill="#2e2eb0"/>
<path d="M316.53,186.36a0.9,0.9 0 1,0 1.8,0a0.9,0.9 0 1,0 -1.8,0M320.81,183.66a0.9,0.9 0 1,0 1.8,0a0.9,0.9 0 1,0 -1.8,0M325.09,180.08a0.9,0.9 0 1,0 1.8,0a0.9,0.9 0 1,0 -1.8,0M329.37,176.93a0.9,0.9 0 1,0 1.8,0a0.9,0.9 0 1,0 -1.8,0M333.65,174.08a0.9,0.9 0 1,0 1.8,0a0.9,0.9 0 1,0 -1.8,0M337.92,171.45a0.9,0.9 0 1,0 1.8,0a0.9,0.9 0 1,0 -1.8,0M342.2,169a0.9,0.9 0 1,0 1.8,0a0.9,0.9 0 1,0 -1.8,0M346.48,166.7a0.9,0.9 0 1,0 1.8,0a0.9,0.9 0 1,0 -1.8,0M350.76,164.52a0.9,0.9 0 1,0 1.8,0a0.9,0.9 0 1,0 -1.8,0M355.04,162.46a0.9,0.9 0 1,0 1.8,0a0.9,0.9 0 1,0 -1.8,0M359.31,160.49a0.9,0.9 0 1,0 1.8,0a0.9,0.9 0 1,0 -1.8,0M363.59,158.61a0.9,0.9 0 1,0 1.8,0a0.9,0.9 0 1,0 -1.8,0M367.87,156.81a0.9,0.9 0 1,0 1.8,0a0.9,0.9 0 1,0 -1.8,0M372.15,155.08a0.9,0.9 0 1,0 1.8,0a0.9,0.9 0 1,0 -1.8,0M376.43,153.41a0.9,0.9 0 1,0 1.8,0a0.9,0.9 0 1,0 -1.8,0M380.7,151.81a0.9,0.9 0 1,0 1.8,0a0.9,0.9 0 1,0 -1.8,0M384.98,150.26a0.9,0.9 0 1,0 1.8,0a0.9,0.9 0 1,0 -1.8,0M389.26,148.76a0.9,0.9 0 1,0 1.8,0a0.9,0.9 0 1,0 -1.8,0M393.54,147.32a0.9,0.9 0 1,0 1.8,0a0.9,0.9 0 1,0 -1.8,0M397.82,145.92a0.9,0.9 0 1,0 1.8,0a0.9,0.9 0 1,0 -1.8,0M402.09,144.57a0.9,0.9 0 1,0 1.8,0a0.9,0.9 0 1,0 -1.8,0M406.37,143.27a0.9,0.9 0 1,0 1.8,0a0.9,0.9 0 1,0 -1.8,0M410.65,142.01a0.9,0.9 0 1,0 1.8,0a0.9,0.9 0 1,0 -1.8,0M414.93,140.8a0.9,0.9 0 1,0 1.8,0a0.9,0.9 0 1,0 -1.8,0M419.21,139.63a0.9,0.9 0 1,0 1.8,0a0.9,0.9 0 1,0 -1.8,0M423.48,138.5a0.9,0.9 0 1,0 1.8,0a0.9,0.9 0 1,0 -1.8,0M427.76,137.41a0.9,0.9 0 1,0 1.8,0a0.9,0.9 0 1,0 -1.8,0M432.04,136.37a0.9,0.9 0 1,0 1.8,0a0.9,0.9 0 1,0 -1.8,0M436.32,135.36a0.9,0.9 0 1,0 1.8,0a0.9,0.9 0 1,0 -1.8,0M440.6,134.4a0.9,0.9 0 1,0 1.8,0a0.9,0.9 0 1,0 -1.8,0M444.87,133.48a0.9,0.9 0 1,0 1.8,0a0.9,0.9 0 1,0 -1.8,0M449.15,132.61a0.9,0.9 0 1,0 1.8,0a0.9,0.9 0 1,0 -1.8,0M453.43,131.77a0.9,0.9 0 1,0 1.8,0a0.9,0.9 0 1,0 -1.8,0M457.71,130.98a0.9,0.9 0 1,0 1.8,0a0.9,0.9 0 1,0 -1.8,0M461.99,130.23a0.9,0.9 0 1,0 1.8,0a0.9,0.9 0 1,0 -1.8,0M466.26,129.53a0.9,0.9 0 1,0 1.8,0a0.9,0.9 0 1,0 -1.8,0M470.54,128.87a0.9,0.9 0 1,0 1.8,0a0.9,0.9 0 1,0 -1.8,0M474.82,128.26a0.9,0.9 0 1,0 1.8,0a0.9,0.9 0 1,0 -1.8,0M479.1,127.69a0.9,0.9 0 1,0 1.8,0a0.9,0.9 0 1,0 -1.8,0M483.38,127.17a0.9,0.9 0 1,0 1.8,0a0.9,0.9 0 1,0 -1.8,0M487.65,126.7a0.9,0.9 0 1,0 1.8,0a0.9,0.9 0 1,0 -1.8,0M491.93,126.28a0.9,0.9 0 1,0 1.8,0a0.9,0.9 0 1,0 -1.8,0M496.21,125.9a0.9,0.9 0 1,0 1.8,0a0.9,0.9 0 1,0 -1.8,0M500.49,125.58a0.9,0.9 0 1,0 1.8,0a0.9,0.9 0 1,0 -1.8,0M504.77,125.31a0.9,0.9 0 1,0 1.8,0a0.9,0.9 0 1,0 -1.8,0M509.04,125.09a0.9,0.9 0 1,0 1.8,0a0.9,0.9 0 1,0 -1.8,0M513.32,124.92a0.9,0.9 0 1,0 1.8,0a0.9,0.9 0 1,0 -1.8,0M517.6,124.81a0.9,0.9 0 1,0 1.8,0a0.9,0.9 0 1,0 -1.8,0" fill="#744084"/>
<path d="M316.53,186.36a0.9,0.9 0 1,0 1.8,0a0.9,0.9 0 1,0 -1.8,0M320.81,186.07a0.9,0.9 0 1,0 1.8,0a0.9,0.9 0 1,0 -1.8,0M325.09,183.16a0.9,0.9 0 1,0 1.8,0a0.9,0.9 0 1,0 -1.8,0M329.37,180.65a0.9,0.9 0 1,0 1.8,0a0.9,0.9 0 1,0 -1.8,0M333.65,178.42a0.9,0.9 0 1,0 1.8,0a0.9,0.9 0 1,0 -1.8,0M337.92,176.41a0.9,0.9 0 1,0 1.8,0a0.9,0.9 0 1,0 -1.8,0M342.2,174.57a0.9,0.9 0 1,0 1.8,0a0.9,0.9 0 1,0 -1.8,0M346.48,172.87a0.9,0.9 0 1,0 1.8,0a0.9,0.9 0 1,0 -1.8,0M350.76,171.29a0.9,0.9 0 1,0 1.8,0a0.9,0.9 0 1,0 -1.8,0M355.04,169.79a0.9,0.9 0 1,0 1.8,0a0.9,0.9 0 1,0 -1.8,0M359.31,168.38a0.9,0.9 0 1,0 1.8,0a0.9,0.9 0 1,0 -1.8,0M363.59,167.03a0.9,0.9 0 1,0 1.8,0a0.9,0.9 0 1,0 -1.8,0M367.87,165.74a0.9,0.9 0 1,0 1.8,0a0.9,0.9 0 1,0 -1.8,0M372.15,164.5a0.9,0.9 0 1,0 1.8,0a0.9,0.9 0 1,0 -1.8,0M376.43,163.3a0.9,0.9 0 1,0 1.8,0a0.9,0.9 0 1,0 -1.8,0M380.7,162.14a0.9,0.9 0 1,0 1.8,0a0.9,0.9 0 1,0 -1.8,0M384.98,161.02a0.9,0.9 0 1,0 1.8,0a0.9,0.9 0 1,0 -1.8,0M389.26,159.92a0.9,0.9 0 1,0 1.8,0a0.9,0.9 0 1,0 -1.8,0M393.54,158.86a0.9,0.9 0 1,0 1.8,0a0.9,0.9 0 1,0 -1.8,0M397.82,157.82a0.9,0.9 0 1,0 1.8,0a0.9,0.9 0 1,0 -1.8,0M402.09,156.81a0.9,0.9 0 1,0 1.8,0a0.9,0.9 0 1,0 -1.8,0M406.37,155.82a0.9,0.9 0 1,0 1.8,0a0.9,0.9 0 1,0 -1.8,0M410.65,154.86a0.9,0.9 0 1,0 1.8,0a0.9,0.9 0 1,0 -1.8,0M414.93,153.93a0.9,0.9 0 1,0 1.8,0a0.9,0.9 0 1,0 -1.8,0M419.21,153.02a0.9,0.9 0 1,0 1.8,0a0.9,0.9 0 1,0 -1.8,0M423.48,152.13a0.9,0.9 0 1,0 1.8,0a0.9,0.9 0 1,0 -1.8,0M427.76,151.27a0.9,0.9 0 1,0 1.8,0a0.9,0.9 0 1,0 -1.8,0M432.04,150.44a0.9,0.9 0 1,0 1.8,0a0.9,0.9 0 1,0 -1.8,0M436.32,149.64a0.9,0.9 0 1,0 1.8,0a0.9,0.9 0 1,0 -1.8,0M440.6,148.86a0.9,0.9 0 1,0 1.8,0a0.9,0.9 0 1,0 -1.8,0M444.87,148.12a0.9,0.9 0 1,0 1.8,0a0.9,0.9 0 1,0 -1.8,0M449.15,147.4a0.9,0.9 0 1,0 1.8,0a0.9,0.9 0 1,0 -1.8,0M453.43,146.73a0.9,0.9 0 1,0 1.8,0a0.9,0.9 0 1,0 -1.8,0M457.71,146.08a0.9,0.9 0 1,0 1.8,0a0.9,0.9 0 1,0 -1.8,0M461.99,145.48a0.9,0.9 0 1,0 1.8,0a0.9,0.9 0 1,0 -1.8,0M466.26,144.91a0.9,0.9 0 1,0 1.8,0a0.9,0.9 0 1,0 -1.8,0M470.54,144.39a0.9,0.9 0 1,0 1.8,0a0.9,0.9 0 1,0 -1.8,0M474.82,143.91a0.9,0.9 0 1,0 1.8,0a0.9,0.9 0 1,0 -1.8,0M479.1,143.47a0.9,0.9 0 1,0 1.8,0a0.9,0.9 0 1,0 -1.8,0M483.38,143.08a0.9,0.9 0 1,0 1.8,0a0.9,0.9 0 1,0 -1.8,0M487.65,142.75a0.9,0.9 0 1,0 1.8,0a0.9,0.9 0 1,0 -1.8,0M491.93,142.46a0.9,0.9 0 1,0 1.8,0a0.9,0.9 0 1,0 -1.8,0M496.21,142.23a0.9,0.9 0 1,0 1.8,0a0.9,0.9 0 1,0 -1.8,0M500.49,142.05a0.9,0.9 0 1,0 1.8,0a0.9,0.9 0 1,0 -1.8,0M504.77,141.93a0.9,0.9 0 1,0 1.8,0a0.9,0.9 0 1,0 -1.8,0M509.04,141.88a0.9,0.9 0 1,0 1.8,0a0.9,0.9 0 1,0 -1.8,0M513.32,141.88a0.9,0.9 0 1,0 1.8,0a0.9,0.9 0 1,0 -1.8,0M517.6,141.88a0.9,0.9 0 1,0 1.8,0a0.9,0.9 0 1,0 -1.8,0" fill="#1a1a1a"/>
<path d="M303.65,191.4a0.95,0.95 0 1,0 1.9,0a0.95,0.95 0 1,0 -1.9,0M304.72,191.4a0.95,0.95 0 1,0 1.9,0a0.95,0.95 0 1,0 -1.9,0M305.79,191.4a0.95,0.95 0 1,0 1.9,0a0.95,0.95 0 1,0 -1.9,0M306.86,191.4a0.95,0.95 0 1,0 1.9,0a0.95,0.95 0 1,0 -1.9,0M307.93,191.4a0.95,0.95 0 1,0 1.9,0a0.95,0.95 0 1,0 -1.9,0M309,191.4a0.95,0.95 0 1,0 1.9,0a0.95,0.95 0 1,0 -1.9,0M310.07,191.4a0.95,0.95 0 1,0 1.9,0a0.95,0.95 0 1,0 -1.9,0M311.14,191.4a0.95,0.95 0 1,0 1.9,0a0.95,0.95 0 1,0 -1.9,0M312.21,191.4a0.95,0.95 0 1,0 1.9,0a0.95,0.95 0 1,0 -1.9,0M313.28,191.4a0.95,0.95 0 1,0 1.9,0a0.95,0.95 0 1,0 -1.9,0M314.35,191.4a0.95,0.95 0 1,0 1.9,0a0.95,0.95 0 1,0 -1.9,0" fill="#101030"/>
<rect x="168.7" y="246.4" width="215.8" height="179.6" fill="none" stroke="#969696" stroke-width="1"/>
<path d="M168.7,426.0v-2.2M168.7,246.4v2.2" stroke="#969696" stroke-width="0.8"/>
<text x="168.7" y="438.8" class="tk" text-anchor="middle">0</text>
<path d="M222.65,426.0v-2.2M222.65,246.4v2.2" stroke="#969696" stroke-width="0.8"/>
<text x="222.65" y="438.8" class="tk" text-anchor="middle">0.5</text>
<path d="M276.6,426.0v-2.2M276.6,246.4v2.2" stroke="#969696" stroke-width="0.8"/>
<text x="276.6" y="438.8" class="tk" text-anchor="middle">1</text>
<path d="M330.55,426.0v-2.2M330.55,246.4v2.2" stroke="#969696" stroke-width="0.8"/>
<text x="330.55" y="438.8" class="tk" text-anchor="middle">1.5</text>
<path d="M384.5,426.0v-2.2M384.5,246.4v2.2" stroke="#969696" stroke-width="0.8"/>
<text x="384.5" y="438.8" class="tk" text-anchor="middle">2</text>
<path d="M168.7,426h2.2M384.5,426h-2.2" stroke="#969696" stroke-width="0.8"/>
<text x="165.4" y="429.4" class="tk" text-anchor="end">0</text>
<path d="M168.7,400.34h2.2M384.5,400.34h-2.2" stroke="#969696" stroke-width="0.8"/>
<text x="165.4" y="403.74" class="tk" text-anchor="end">0.01</text>
<path d="M168.7,374.69h2.2M384.5,374.69h-2.2" stroke="#969696" stroke-width="0.8"/>
<text x="165.4" y="378.09" class="tk" text-anchor="end">0.02</text>
<path d="M168.7,349.03h2.2M384.5,349.03h-2.2" stroke="#969696" stroke-width="0.8"/>
<text x="165.4" y="352.43" class="tk" text-anchor="end">0.03</text>
<path d="M168.7,323.37h2.2M384.5,323.37h-2.2" stroke="#969696" stroke-width="0.8"/>
<text x="165.4" y="326.77" class="tk" text-anchor="end">0.04</text>
<path d="M168.7,297.71h2.2M384.5,297.71h-2.2" stroke="#969696" stroke-width="0.8"/>
<text x="165.4" y="301.11" class="tk" text-anchor="end">0.05</text>
<path d="M168.7,272.06h2.2M384.5,272.06h-2.2" stroke="#969696" stroke-width="0.8"/>
<text x="165.4" y="275.46" class="tk" text-anchor="end">0.06</text>
<path d="M168.7,246.4h2.2M384.5,246.4h-2.2" stroke="#969696" stroke-width="0.8"/>
<text x="165.4" y="249.8" class="tk" text-anchor="end">0.07</text>
<path d="M168.7,280.01 169.78,280.08 170.86,280.29 171.94,280.63 173.02,281.12 174.09,281.74 175.17,282.5 176.25,283.41 177.33,284.44 178.41,285.62 179.49,286.94 179.49,348.26 181.65,366.68 182.33,370.22 183,373.14 183.68,375.65 184.36,377.84 185.04,379.8 185.72,381.55 186.4,383.15 187.08,384.62 187.75,385.96 188.43,387.21 189.11,388.38 189.79,389.46 190.47,390.48 191.15,391.43 191.82,392.34 192.5,393.19 193.18,393.99 193.86,394.76 194.54,395.48 195.22,396.17 195.9,396.83 196.57,397.46 197.25,398.06 197.93,398.63 198.61,399.18 199.29,399.71 199.97,400.22 200.64,400.7 201.32,401.17 202,401.62 202.68,402.05 203.36,402.47 204.04,402.87 204.71,403.26 205.39,403.63 206.07,403.99 206.75,404.34 207.43,404.68 208.11,405 208.79,405.32 209.46,405.62 210.14,405.92 210.82,406.21 211.5,406.49 212.18,406.76 212.86,407.02 213.53,407.27 214.21,407.52 214.89,407.76 215.57,407.99 216.25,408.22 216.93,408.44 217.61,408.66 218.28,408.87 218.96,409.07 219.64,409.27 220.32,409.46 221,409.65 221.68,409.83 222.35,410.01 223.03,410.19 223.71,410.36 224.39,410.53 225.07,410.69 225.75,410.85 226.42,411 227.1,411.15 227.78,411.3 228.46,411.45 229.14,411.59 229.82,411.73 230.5,411.86 231.17,412 231.85,412.13 232.53,412.25 233.21,412.38 233.89,412.5 234.57,412.62 235.24,412.74 235.92,412.86 236.6,412.97 237.28,413.08 237.96,413.19 238.64,413.3 239.31,413.4 239.99,413.51 240.67,413.61 241.35,413.71 242.03,413.81 242.71,413.9 243.39,414 244.06,414.09 244.74,414.18 245.42,414.27 246.1,414.36 246.78,414.45 247.46,414.54 248.13,414.62 248.81,414.71 249.49,414.79 250.17,414.87 250.85,414.95 251.53,415.03 252.21,415.11 252.88,415.19 253.56,415.26 254.24,415.34 254.92,415.41 255.6,415.49 256.28,415.56 256.95,415.63 257.63,415.7 258.31,415.77 258.99,415.84 259.67,415.91 260.35,415.98 261.02,416.05 261.7,416.12 262.38,416.18 263.06,416.25 263.74,416.31 264.42,416.38 265.1,416.44 265.77,416.5 266.45,416.57 267.13,416.63 267.81,416.69 268.49,416.75 269.17,416.81 269.84,416.87 270.52,416.93 271.2,416.99 271.88,417.05 272.56,417.11 273.24,417.17 273.92,417.23 274.59,417.29 275.27,417.34 275.95,417.4 276.63,417.46 277.31,417.52 277.99,417.57 278.66,417.63 279.34,417.68 280.02,417.74 280.7,417.79 281.38,417.85 282.06,417.9 282.73,417.96 283.41,418.01 284.09,418.07 284.77,418.12 285.45,418.18 286.13,418.23 286.81,418.28 287.48,418.34 288.16,418.39 288.84,418.44 289.52,418.5 290.2,418.55 290.88,418.6 291.55,418.65 292.23,418.71 292.91,418.76 293.59,418.81 294.27,418.86 294.95,418.91 295.63,418.97 296.3,419.02 296.98,419.07 297.66,419.12 298.34,419.17 299.02,419.23 299.7,419.28 300.37,419.33 301.05,419.38 301.73,419.43 302.41,419.48 303.09,419.54 303.77,419.59 304.44,419.64 305.12,419.69 305.8,419.74 306.48,419.79 307.16,419.84 307.84,419.9 308.52,419.95 309.19,420 309.87,420.05 310.55,420.1 311.23,420.15 311.91,420.2 312.59,420.26 313.26,420.31 313.94,420.36 314.62,420.41 315.3,420.46 315.98,420.51 316.66,420.57 317.33,420.62 318.01,420.67 318.69,420.72 319.37,420.77 320.05,420.82 320.73,420.88 321.41,420.93 322.08,420.98 322.76,421.03 323.44,421.08 324.12,421.14 324.8,421.19 325.48,421.24 326.15,421.29 326.83,421.35 327.51,421.4 328.19,421.45 328.87,421.5 329.55,421.55 330.23,421.61 330.9,421.66 331.58,421.71 332.26,421.77 332.94,421.82 333.62,421.87 334.3,421.92 334.97,421.98 335.65,422.03 336.33,422.08 337.01,422.14 337.69,422.19 338.37,422.24 339.04,422.3 339.72,422.35 340.4,422.4 341.08,422.46 341.76,422.51 342.44,422.56 343.12,422.62 343.79,422.67 344.47,422.73 345.15,422.78 345.83,422.83 346.51,422.89 347.19,422.94 347.86,423 348.54,423.05 349.22,423.1 349.9,423.16 350.58,423.21 351.26,423.27 351.94,423.32 352.61,423.38 353.29,423.43 353.97,423.49 354.65,423.54 355.33,423.6 356.01,423.65 356.68,423.71 357.36,423.76 358.04,423.82 358.72,423.87 359.4,423.93 360.08,423.98 360.75,424.04 361.43,424.09 362.11,424.15 362.79,424.2 363.47,424.26 364.15,424.31 364.83,424.37 365.5,424.42 366.18,424.48 366.86,424.54 367.54,424.59 368.22,424.65 368.9,424.7 369.57,424.76 370.25,424.82 370.93,424.87 371.61,424.93 372.29,424.98 372.97,425.04 373.65,425.1 374.32,425.15 375,425.21 375.68,425.26 376.36,425.32 377.04,425.38 377.72,425.43 378.39,425.49 379.07,425.55 379.75,425.6 380.43,425.66 381.11,425.72 381.79,425.77 382.46,425.83 383.14,425.89 383.82,425.94 384.5,426" fill="none" stroke="#f04060" stroke-width="0.8" stroke-opacity="0.85"/>
<path d="M168.7,318.75 169.78,318.84 170.86,319.1 171.94,319.54 173.02,320.15 174.09,320.93 175.17,321.89 176.25,323.03 177.33,324.34 178.41,325.82 179.49,327.48 179.49,383.67 181.65,389.59 182.33,390.95 183,392.28 183.68,393.52 184.36,394.67 185.04,395.74 185.72,396.73 186.4,397.65 187.08,398.51 187.75,399.31 188.43,400.06 189.11,400.76 189.79,401.42 190.47,402.04 191.15,402.63 191.82,403.18 192.5,403.7 193.18,404.2 193.86,404.67 194.54,405.11 195.22,405.54 195.9,405.94 196.57,406.33 197.25,406.7 197.93,407.05 198.61,407.39 199.29,407.71 199.97,408.02 200.64,408.31 201.32,408.6 202,408.87 202.68,409.13 203.36,409.38 204.04,409.63 204.71,409.86 205.39,410.08 206.07,410.3 206.75,410.51 207.43,410.71 208.11,410.9 208.79,411.09 209.46,411.27 210.14,411.45 210.82,411.62 211.5,411.78 212.18,411.94 212.86,412.09 213.53,412.24 214.21,412.38 214.89,412.52 215.57,412.66 216.25,412.79 216.93,412.92 217.61,413.04 218.28,413.17 218.96,413.28 219.64,413.4 220.32,413.51 221,413.62 221.68,413.72 222.35,413.83 223.03,413.93 223.71,414.02 224.39,414.12 225.07,414.21 225.75,414.3 226.42,414.39 227.1,414.48 227.78,414.56 228.46,414.65 229.14,414.73 229.82,414.81 230.5,414.88 231.17,414.96 231.85,415.04 232.53,415.11 233.21,415.18 233.89,415.25 234.57,415.32 235.24,415.39 235.92,415.46 236.6,415.52 237.28,415.59 237.96,415.65 238.64,415.71 239.31,415.77 239.99,415.83 240.67,415.89 241.35,415.95 242.03,416.01 242.71,416.07 243.39,416.13 244.06,416.18 244.74,416.24 245.42,416.29 246.1,416.35 246.78,416.4 247.46,416.45 248.13,416.5 248.81,416.56 249.49,416.61 250.17,416.66 250.85,416.71 251.53,416.76 252.21,416.81 252.88,416.86 253.56,416.91 254.24,416.95 254.92,417 255.6,417.05 256.28,417.1 256.95,417.14 257.63,417.19 258.31,417.24 258.99,417.28 259.67,417.33 260.35,417.38 261.02,417.42 261.7,417.47 262.38,417.51 263.06,417.56 263.74,417.6 264.42,417.65 265.1,417.69 265.77,417.74 266.45,417.78 267.13,417.82 267.81,417.87 268.49,417.91 269.17,417.96 269.84,418 270.52,418.04 271.2,418.09 271.88,418.13 272.56,418.18 273.24,418.22 273.92,418.26 274.59,418.31 275.27,418.35 275.95,418.39 276.63,418.44 277.31,418.48 277.99,418.53 278.66,418.57 279.34,418.61 280.02,418.66 280.7,418.7 281.38,418.74 282.06,418.79 282.73,418.83 283.41,418.87 284.09,418.92 284.77,418.96 285.45,419.01 286.13,419.05 286.81,419.09 287.48,419.14 288.16,419.18 288.84,419.23 289.52,419.27 290.2,419.32 290.88,419.36 291.55,419.4 292.23,419.45 292.91,419.49 293.59,419.54 294.27,419.58 294.95,419.63 295.63,419.67 296.3,419.72 296.98,419.76 297.66,419.81 298.34,419.85 299.02,419.9 299.7,419.94 300.37,419.99 301.05,420.03 301.73,420.08 302.41,420.13 303.09,420.17 303.77,420.22 304.44,420.26 305.12,420.31 305.8,420.36 306.48,420.4 307.16,420.45 307.84,420.49 308.52,420.54 309.19,420.59 309.87,420.63 310.55,420.68 311.23,420.73 311.91,420.78 312.59,420.82 313.26,420.87 313.94,420.92 314.62,420.96 315.3,421.01 315.98,421.06 316.66,421.11 317.33,421.15 318.01,421.2 318.69,421.25 319.37,421.3 320.05,421.34 320.73,421.39 321.41,421.44 322.08,421.49 322.76,421.54 323.44,421.58 324.12,421.63 324.8,421.68 325.48,421.73 326.15,421.78 326.83,421.83 327.51,421.88 328.19,421.92 328.87,421.97 329.55,422.02 330.23,422.07 330.9,422.12 331.58,422.17 332.26,422.22 332.94,422.27 333.62,422.32 334.3,422.36 334.97,422.41 335.65,422.46 336.33,422.51 337.01,422.56 337.69,422.61 338.37,422.66 339.04,422.71 339.72,422.76 340.4,422.81 341.08,422.86 341.76,422.91 342.44,422.96 343.12,423.01 343.79,423.06 344.47,423.11 345.15,423.16 345.83,423.21 346.51,423.26 347.19,423.31 347.86,423.36 348.54,423.41 349.22,423.45 349.9,423.5 350.58,423.55 351.26,423.6 351.94,423.65 352.61,423.7 353.29,423.75 353.97,423.8 354.65,423.85 355.33,423.9 356.01,423.95 356.68,424 357.36,424.05 358.04,424.1 358.72,424.15 359.4,424.2 360.08,424.25 360.75,424.3 361.43,424.35 362.11,424.4 362.79,424.45 363.47,424.5 364.15,424.55 364.83,424.6 365.5,424.65 366.18,424.69 366.86,424.74 367.54,424.79 368.22,424.84 368.9,424.89 369.57,424.94 370.25,424.99 370.93,425.04 371.61,425.09 372.29,425.14 372.97,425.18 373.65,425.23 374.32,425.28 375,425.33 375.68,425.38 376.36,425.43 377.04,425.48 377.72,425.52 378.39,425.57 379.07,425.62 379.75,425.67 380.43,425.72 381.11,425.76 381.79,425.81 382.46,425.86 383.14,425.91 383.82,425.95 384.5,426" fill="none" stroke="#50a060" stroke-width="0.8" stroke-opacity="0.85"/>
<path d="M168.7,343.64 169.78,343.74 170.86,344.02 171.94,344.49 173.02,345.16 174.09,346.01 175.17,347.06 176.25,348.29 177.33,349.72 178.41,351.33 179.49,353.13 179.49,396.49 181.65,399.04 182.33,399.75 183,400.62 183.68,401.51 184.36,402.39 185.04,403.22 185.72,404.01 186.4,404.75 187.08,405.44 187.75,406.09 188.43,406.7 189.11,407.28 189.79,407.81 190.47,408.32 191.15,408.8 191.82,409.25 192.5,409.67 193.18,410.07 193.86,410.45 194.54,410.81 195.22,411.15 195.9,411.47 196.57,411.77 197.25,412.06 197.93,412.34 198.61,412.6 199.29,412.85 199.97,413.09 200.64,413.31 201.32,413.53 202,413.73 202.68,413.93 203.36,414.12 204.04,414.3 204.71,414.47 205.39,414.63 206.07,414.79 206.75,414.94 207.43,415.08 208.11,415.22 208.79,415.35 209.46,415.48 210.14,415.6 210.82,415.71 211.5,415.83 212.18,415.93 212.86,416.04 213.53,416.14 214.21,416.23 214.89,416.32 215.57,416.41 216.25,416.5 216.93,416.58 217.61,416.66 218.28,416.74 218.96,416.81 219.64,416.88 220.32,416.95 221,417.02 221.68,417.08 222.35,417.14 223.03,417.21 223.71,417.26 224.39,417.32 225.07,417.38 225.75,417.43 226.42,417.48 227.1,417.53 227.78,417.58 228.46,417.63 229.14,417.67 229.82,417.72 230.5,417.76 231.17,417.81 231.85,417.85 232.53,417.89 233.21,417.93 233.89,417.97 234.57,418.01 235.24,418.05 235.92,418.08 236.6,418.12 237.28,418.15 237.96,418.19 238.64,418.22 239.31,418.26 239.99,418.29 240.67,418.32 241.35,418.36 242.03,418.39 242.71,418.42 243.39,418.45 244.06,418.48 244.74,418.51 245.42,418.54 246.1,418.57 246.78,418.6 247.46,418.63 248.13,418.66 248.81,418.69 249.49,418.72 250.17,418.75 250.85,418.78 251.53,418.8 252.21,418.83 252.88,418.86 253.56,418.89 254.24,418.92 254.92,418.94 255.6,418.97 256.28,419 256.95,419.03 257.63,419.06 258.31,419.09 258.99,419.11 259.67,419.14 260.35,419.17 261.02,419.2 261.7,419.23 262.38,419.25 263.06,419.28 263.74,419.31 264.42,419.34 265.1,419.37 265.77,419.4 266.45,419.43 267.13,419.45 267.81,419.48 268.49,419.51 269.17,419.54 269.84,419.57 270.52,419.6 271.2,419.63 271.88,419.66 272.56,419.69 273.24,419.72 273.92,419.75 274.59,419.78 275.27,419.81 275.95,419.84 276.63,419.87 277.31,419.91 277.99,419.94 278.66,419.97 279.34,420 280.02,420.03 280.7,420.06 281.38,420.1 282.06,420.13 282.73,420.16 283.41,420.19 284.09,420.23 284.77,420.26 285.45,420.29 286.13,420.33 286.81,420.36 287.48,420.39 288.16,420.43 288.84,420.46 289.52,420.5 290.2,420.53 290.88,420.57 291.55,420.6 292.23,420.64 292.91,420.67 293.59,420.71 294.27,420.74 294.95,420.78 295.63,420.81 296.3,420.85 296.98,420.89 297.66,420.92 298.34,420.96 299.02,421 299.7,421.03 300.37,421.07 301.05,421.11 301.73,421.14 302.41,421.18 303.09,421.22 303.77,421.26 304.44,421.29 305.12,421.33 305.8,421.37 306.48,421.41 307.16,421.45 307.84,421.49 308.52,421.53 309.19,421.56 309.87,421.6 310.55,421.64 311.23,421.68 311.91,421.72 312.59,421.76 313.26,421.8 313.94,421.84 314.62,421.88 315.3,421.92 315.98,421.96 316.66,422 317.33,422.04 318.01,422.08 318.69,422.12 319.37,422.16 320.05,422.2 320.73,422.25 321.41,422.29 322.08,422.33 322.76,422.37 323.44,422.41 324.12,422.45 324.8,422.49 325.48,422.53 326.15,422.57 326.83,422.62 327.51,422.66 328.19,422.7 328.87,422.74 329.55,422.78 330.23,422.82 330.9,422.87 331.58,422.91 332.26,422.95 332.94,422.99 333.62,423.03 334.3,423.08 334.97,423.12 335.65,423.16 336.33,423.2 337.01,423.24 337.69,423.29 338.37,423.33 339.04,423.37 339.72,423.41 340.4,423.45 341.08,423.49 341.76,423.54 342.44,423.58 343.12,423.62 343.79,423.66 344.47,423.7 345.15,423.75 345.83,423.79 346.51,423.83 347.19,423.87 347.86,423.91 348.54,423.95 349.22,424 349.9,424.04 350.58,424.08 351.26,424.12 351.94,424.16 352.61,424.2 353.29,424.24 353.97,424.29 354.65,424.33 355.33,424.37 356.01,424.41 356.68,424.45 357.36,424.49 358.04,424.53 358.72,424.57 359.4,424.61 360.08,424.65 360.75,424.69 361.43,424.73 362.11,424.77 362.79,424.81 363.47,424.85 364.15,424.89 364.83,424.93 365.5,424.97 366.18,425.01 366.86,425.05 367.54,425.09 368.22,425.13 368.9,425.16 369.57,425.2 370.25,425.24 370.93,425.28 371.61,425.32 372.29,425.35 372.97,425.39 373.65,425.43 374.32,425.47 375,425.5 375.68,425.54 376.36,425.58 377.04,425.61 377.72,425.65 378.39,425.69 379.07,425.72 379.75,425.76 380.43,425.79 381.11,425.83 381.79,425.86 382.46,425.9 383.14,425.93 383.82,425.97 384.5,426" fill="none" stroke="#4848f0" stroke-width="0.8" stroke-opacity="0.85"/>
<path d="M168.7,362.11 169.78,362.19 170.86,362.41 171.94,362.78 173.02,363.3 174.09,363.97 175.17,364.79 176.25,365.76 177.33,366.88 178.41,368.14 179.49,369.55 179.49,401.63 181.65,403.4 182.33,404.16 183,404.99 183.68,405.8 184.36,406.58 185.04,407.31 185.72,407.99 186.4,408.62 187.08,409.22 187.75,409.77 188.43,410.29 189.11,410.77 189.79,411.23 190.47,411.65 191.15,412.05 191.82,412.43 192.5,412.79 193.18,413.12 193.86,413.44 194.54,413.74 195.22,414.02 195.9,414.29 196.57,414.55 197.25,414.79 197.93,415.02 198.61,415.24 199.29,415.44 199.97,415.64 200.64,415.83 201.32,416.01 202,416.18 202.68,416.34 203.36,416.5 204.04,416.65 204.71,416.79 205.39,416.93 206.07,417.06 206.75,417.18 207.43,417.3 208.11,417.41 208.79,417.52 209.46,417.63 210.14,417.73 210.82,417.83 211.5,417.92 212.18,418.01 212.86,418.1 213.53,418.18 214.21,418.26 214.89,418.33 215.57,418.41 216.25,418.48 216.93,418.55 217.61,418.61 218.28,418.68 218.96,418.74 219.64,418.8 220.32,418.85 221,418.91 221.68,418.96 222.35,419.01 223.03,419.06 223.71,419.11 224.39,419.16 225.07,419.21 225.75,419.25 226.42,419.29 227.1,419.33 227.78,419.38 228.46,419.41 229.14,419.45 229.82,419.49 230.5,419.53 231.17,419.56 231.85,419.6 232.53,419.63 233.21,419.66 233.89,419.69 234.57,419.73 235.24,419.76 235.92,419.79 236.6,419.82 237.28,419.85 237.96,419.87 238.64,419.9 239.31,419.93 239.99,419.96 240.67,419.98 241.35,420.01 242.03,420.04 242.71,420.06 243.39,420.09 244.06,420.11 244.74,420.14 245.42,420.16 246.1,420.18 246.78,420.21 247.46,420.23 248.13,420.25 248.81,420.28 249.49,420.3 250.17,420.32 250.85,420.35 251.53,420.37 252.21,420.39 252.88,420.41 253.56,420.44 254.24,420.46 254.92,420.48 255.6,420.5 256.28,420.52 256.95,420.55 257.63,420.57 258.31,420.59 258.99,420.61 259.67,420.64 260.35,420.66 261.02,420.68 261.7,420.7 262.38,420.72 263.06,420.75 263.74,420.77 264.42,420.79 265.1,420.81 265.77,420.84 266.45,420.86 267.13,420.88 267.81,420.9 268.49,420.93 269.17,420.95 269.84,420.97 270.52,420.99 271.2,421.02 271.88,421.04 272.56,421.06 273.24,421.09 273.92,421.11 274.59,421.14 275.27,421.16 275.95,421.18 276.63,421.21 277.31,421.23 277.99,421.26 278.66,421.28 279.34,421.3 280.02,421.33 280.7,421.35 281.38,421.38 282.06,421.4 282.73,421.43 283.41,421.45 284.09,421.48 284.77,421.51 285.45,421.53 286.13,421.56 286.81,421.58 287.48,421.61 288.16,421.64 288.84,421.66 289.52,421.69 290.2,421.72 290.88,421.74 291.55,421.77 292.23,421.8 292.91,421.82 293.59,421.85 294.27,421.88 294.95,421.91 295.63,421.93 296.3,421.96 296.98,421.99 297.66,422.02 298.34,422.05 299.02,422.08 299.7,422.1 300.37,422.13 301.05,422.16 301.73,422.19 302.41,422.22 303.09,422.25 303.77,422.28 304.44,422.31 305.12,422.34 305.8,422.37 306.48,422.4 307.16,422.43 307.84,422.46 308.52,422.49 309.19,422.52 309.87,422.55 310.55,422.58 311.23,422.61 311.91,422.64 312.59,422.67 313.26,422.7 313.94,422.73 314.62,422.76 315.3,422.79 315.98,422.83 316.66,422.86 317.33,422.89 318.01,422.92 318.69,422.95 319.37,422.98 320.05,423.02 320.73,423.05 321.41,423.08 322.08,423.11 322.76,423.14 323.44,423.17 324.12,423.21 324.8,423.24 325.48,423.27 326.15,423.3 326.83,423.34 327.51,423.37 328.19,423.4 328.87,423.43 329.55,423.47 330.23,423.5 330.9,423.53 331.58,423.56 332.26,423.6 332.94,423.63 333.62,423.66 334.3,423.69 334.97,423.73 335.65,423.76 336.33,423.79 337.01,423.83 337.69,423.86 338.37,423.89 339.04,423.92 339.72,423.96 340.4,423.99 341.08,424.02 341.76,424.06 342.44,424.09 343.12,424.12 343.79,424.15 344.47,424.19 345.15,424.22 345.83,424.25 346.51,424.29 347.19,424.32 347.86,424.35 348.54,424.38 349.22,424.42 349.9,424.45 350.58,424.48 351.26,424.51 351.94,424.55 352.61,424.58 353.29,424.61 353.97,424.64 354.65,424.68 355.33,424.71 356.01,424.74 356.68,424.77 357.36,424.8 358.04,424.84 358.72,424.87 359.4,424.9 360.08,424.93 360.75,424.96 361.43,424.99 362.11,425.03 362.79,425.06 363.47,425.09 364.15,425.12 364.83,425.15 365.5,425.18 366.18,425.21 366.86,425.24 367.54,425.27 368.22,425.31 368.9,425.34 369.57,425.37 370.25,425.4 370.93,425.43 371.61,425.46 372.29,425.49 372.97,425.52 373.65,425.55 374.32,425.58 375,425.6 375.68,425.63 376.36,425.66 377.04,425.69 377.72,425.72 378.39,425.75 379.07,425.78 379.75,425.81 380.43,425.83 381.11,425.86 381.79,425.89 382.46,425.92 383.14,425.95 383.82,425.97 384.5,426" fill="none" stroke="#b878c8" stroke-width="0.8" stroke-opacity="0.85"/>
<path d="M168.7,375.46 169.78,375.54 170.86,375.8 171.94,376.24 173.02,376.85 174.09,377.64 175.17,378.6 176.25,379.73 177.33,381.04 178.41,382.52 179.49,384.18 179.49,408.55 181.65,409.57 182.33,410.2 183,410.85 183.68,411.46 184.36,412.04 185.04,412.58 185.72,413.08 186.4,413.54 187.08,413.97 187.75,414.37 188.43,414.75 189.11,415.1 189.79,415.43 190.47,415.73 191.15,416.02 191.82,416.3 192.5,416.55 193.18,416.8 193.86,417.02 194.54,417.24 195.22,417.45 195.9,417.64 196.57,417.82 197.25,418 197.93,418.17 198.61,418.32 199.29,418.47 199.97,418.62 200.64,418.75 201.32,418.88 202,419.01 202.68,419.13 203.36,419.24 204.04,419.35 204.71,419.45 205.39,419.55 206.07,419.65 206.75,419.74 207.43,419.83 208.11,419.91 208.79,419.99 209.46,420.07 210.14,420.14 210.82,420.22 211.5,420.28 212.18,420.35 212.86,420.41 213.53,420.47 214.21,420.53 214.89,420.59 215.57,420.65 216.25,420.7 216.93,420.75 217.61,420.8 218.28,420.84 218.96,420.89 219.64,420.93 220.32,420.98 221,421.02 221.68,421.06 222.35,421.1 223.03,421.13 223.71,421.17 224.39,421.21 225.07,421.24 225.75,421.27 226.42,421.31 227.1,421.34 227.78,421.37 228.46,421.4 229.14,421.43 229.82,421.45 230.5,421.48 231.17,421.51 231.85,421.53 232.53,421.56 233.21,421.58 233.89,421.61 234.57,421.63 235.24,421.65 235.92,421.68 236.6,421.7 237.28,421.72 237.96,421.74 238.64,421.76 239.31,421.78 239.99,421.8 240.67,421.82 241.35,421.84 242.03,421.86 242.71,421.88 243.39,421.9 244.06,421.92 244.74,421.93 245.42,421.95 246.1,421.97 246.78,421.99 247.46,422 248.13,422.02 248.81,422.04 249.49,422.06 250.17,422.07 250.85,422.09 251.53,422.11 252.21,422.12 252.88,422.14 253.56,422.15 254.24,422.17 254.92,422.19 255.6,422.2 256.28,422.22 256.95,422.23 257.63,422.25 258.31,422.27 258.99,422.28 259.67,422.3 260.35,422.31 261.02,422.33 261.7,422.34 262.38,422.36 263.06,422.37 263.74,422.39 264.42,422.41 265.1,422.42 265.77,422.44 266.45,422.45 267.13,422.47 267.81,422.48 268.49,422.5 269.17,422.52 269.84,422.53 270.52,422.55 271.2,422.56 271.88,422.58 272.56,422.6 273.24,422.61 273.92,422.63 274.59,422.65 275.27,422.66 275.95,422.68 276.63,422.7 277.31,422.71 277.99,422.73 278.66,422.75 279.34,422.76 280.02,422.78 280.7,422.8 281.38,422.81 282.06,422.83 282.73,422.85 283.41,422.86 284.09,422.88 284.77,422.9 285.45,422.92 286.13,422.93 286.81,422.95 287.48,422.97 288.16,422.99 288.84,423.01 289.52,423.02 290.2,423.04 290.88,423.06 291.55,423.08 292.23,423.1 292.91,423.12 293.59,423.13 294.27,423.15 294.95,423.17 295.63,423.19 296.3,423.21 296.98,423.23 297.66,423.25 298.34,423.27 299.02,423.29 299.7,423.31 300.37,423.33 301.05,423.35 301.73,423.36 302.41,423.38 303.09,423.4 303.77,423.42 304.44,423.44 305.12,423.46 305.8,423.48 306.48,423.5 307.16,423.52 307.84,423.55 308.52,423.57 309.19,423.59 309.87,423.61 310.55,423.63 311.23,423.65 311.91,423.67 312.59,423.69 313.26,423.71 313.94,423.73 314.62,423.75 315.3,423.77 315.98,423.79 316.66,423.82 317.33,423.84 318.01,423.86 318.69,423.88 319.37,423.9 320.05,423.92 320.73,423.94 321.41,423.97 322.08,423.99 322.76,424.01 323.44,424.03 324.12,424.05 324.8,424.08 325.48,424.1 326.15,424.12 326.83,424.14 327.51,424.16 328.19,424.19 328.87,424.21 329.55,424.23 330.23,424.25 330.9,424.27 331.58,424.3 332.26,424.32 332.94,424.34 333.62,424.36 334.3,424.39 334.97,424.41 335.65,424.43 336.33,424.45 337.01,424.48 337.69,424.5 338.37,424.52 339.04,424.54 339.72,424.57 340.4,424.59 341.08,424.61 341.76,424.63 342.44,424.66 343.12,424.68 343.79,424.7 344.47,424.72 345.15,424.75 345.83,424.77 346.51,424.79 347.19,424.81 347.86,424.84 348.54,424.86 349.22,424.88 349.9,424.9 350.58,424.93 351.26,424.95 351.94,424.97 352.61,424.99 353.29,425.02 353.97,425.04 354.65,425.06 355.33,425.08 356.01,425.11 356.68,425.13 357.36,425.15 358.04,425.17 358.72,425.2 359.4,425.22 360.08,425.24 360.75,425.26 361.43,425.28 362.11,425.31 362.79,425.33 363.47,425.35 364.15,425.37 364.83,425.39 365.5,425.42 366.18,425.44 366.86,425.46 367.54,425.48 368.22,425.5 368.9,425.52 369.57,425.55 370.25,425.57 370.93,425.59 371.61,425.61 372.29,425.63 372.97,425.65 373.65,425.67 374.32,425.69 375,425.72 375.68,425.74 376.36,425.76 377.04,425.78 377.72,425.8 378.39,425.82 379.07,425.84 379.75,425.86 380.43,425.88 381.11,425.9 381.79,425.92 382.46,425.94 383.14,425.96 383.82,425.98 384.5,426" fill="none" stroke="#383838" stroke-width="0.8" stroke-opacity="0.85"/>
<path d="M167.8,280.01a0.9,0.9 0 1,0 1.8,0a0.9,0.9 0 1,0 -1.8,0M169.96,280.29a0.9,0.9 0 1,0 1.8,0a0.9,0.9 0 1,0 -1.8,0M172.12,281.12a0.9,0.9 0 1,0 1.8,0a0.9,0.9 0 1,0 -1.8,0M174.27,282.5a0.9,0.9 0 1,0 1.8,0a0.9,0.9 0 1,0 -1.8,0M176.43,284.44a0.9,0.9 0 1,0 1.8,0a0.9,0.9 0 1,0 -1.8,0M178.59,286.94a0.9,0.9 0 1,0 1.8,0a0.9,0.9 0 1,0 -1.8,0" fill="#b52a4a"/>
<path d="M178.59,348.26a0.9,0.9 0 1,0 1.8,0a0.9,0.9 0 1,0 -1.8,0M180.75,366.68a0.9,0.9 0 1,0 1.8,0a0.9,0.9 0 1,0 -1.8,0M185.06,382.15a0.9,0.9 0 1,0 1.8,0a0.9,0.9 0 1,0 -1.8,0M189.38,390.2a0.9,0.9 0 1,0 1.8,0a0.9,0.9 0 1,0 -1.8,0M193.7,395.54a0.9,0.9 0 1,0 1.8,0a0.9,0.9 0 1,0 -1.8,0M198.01,399.42a0.9,0.9 0 1,0 1.8,0a0.9,0.9 0 1,0 -1.8,0M202.33,402.39a0.9,0.9 0 1,0 1.8,0a0.9,0.9 0 1,0 -1.8,0M206.64,404.73a0.9,0.9 0 1,0 1.8,0a0.9,0.9 0 1,0 -1.8,0M210.96,406.63a0.9,0.9 0 1,0 1.8,0a0.9,0.9 0 1,0 -1.8,0M215.28,408.2a0.9,0.9 0 1,0 1.8,0a0.9,0.9 0 1,0 -1.8,0M219.59,409.51a0.9,0.9 0 1,0 1.8,0a0.9,0.9 0 1,0 -1.8,0M223.91,410.63a0.9,0.9 0 1,0 1.8,0a0.9,0.9 0 1,0 -1.8,0M228.22,411.59a0.9,0.9 0 1,0 1.8,0a0.9,0.9 0 1,0 -1.8,0M232.54,412.42a0.9,0.9 0 1,0 1.8,0a0.9,0.9 0 1,0 -1.8,0M236.86,413.16a0.9,0.9 0 1,0 1.8,0a0.9,0.9 0 1,0 -1.8,0M241.17,413.81a0.9,0.9 0 1,0 1.8,0a0.9,0.9 0 1,0 -1.8,0M245.49,414.4a0.9,0.9 0 1,0 1.8,0a0.9,0.9 0 1,0 -1.8,0M249.8,414.93a0.9,0.9 0 1,0 1.8,0a0.9,0.9 0 1,0 -1.8,0M254.12,415.42a0.9,0.9 0 1,0 1.8,0a0.9,0.9 0 1,0 -1.8,0M258.44,415.88a0.9,0.9 0 1,0 1.8,0a0.9,0.9 0 1,0 -1.8,0M262.75,416.3a0.9,0.9 0 1,0 1.8,0a0.9,0.9 0 1,0 -1.8,0M267.07,416.71a0.9,0.9 0 1,0 1.8,0a0.9,0.9 0 1,0 -1.8,0M271.38,417.09a0.9,0.9 0 1,0 1.8,0a0.9,0.9 0 1,0 -1.8,0M275.7,417.46a0.9,0.9 0 1,0 1.8,0a0.9,0.9 0 1,0 -1.8,0M280.02,417.81a0.9,0.9 0 1,0 1.8,0a0.9,0.9 0 1,0 -1.8,0M284.33,418.16a0.9,0.9 0 1,0 1.8,0a0.9,0.9 0 1,0 -1.8,0M288.65,418.5a0.9,0.9 0 1,0 1.8,0a0.9,0.9 0 1,0 -1.8,0M292.96,418.83a0.9,0.9 0 1,0 1.8,0a0.9,0.9 0 1,0 -1.8,0M297.28,419.16a0.9,0.9 0 1,0 1.8,0a0.9,0.9 0 1,0 -1.8,0M301.6,419.49a0.9,0.9 0 1,0 1.8,0a0.9,0.9 0 1,0 -1.8,0M305.91,419.82a0.9,0.9 0 1,0 1.8,0a0.9,0.9 0 1,0 -1.8,0M310.23,420.15a0.9,0.9 0 1,0 1.8,0a0.9,0.9 0 1,0 -1.8,0M314.54,420.47a0.9,0.9 0 1,0 1.8,0a0.9,0.9 0 1,0 -1.8,0M318.86,420.8a0.9,0.9 0 1,0 1.8,0a0.9,0.9 0 1,0 -1.8,0M323.18,421.13a0.9,0.9 0 1,0 1.8,0a0.9,0.9 0 1,0 -1.8,0M327.49,421.47a0.9,0.9 0 1,0 1.8,0a0.9,0.9 0 1,0 -1.8,0M331.81,421.8a0.9,0.9 0 1,0 1.8,0a0.9,0.9 0 1,0 -1.8,0M336.12,422.14a0.9,0.9 0 1,0 1.8,0a0.9,0.9 0 1,0 -1.8,0M340.44,422.48a0.9,0.9 0 1,0 1.8,0a0.9,0.9 0 1,0 -1.8,0M344.76,422.82a0.9,0.9 0 1,0 1.8,0a0.9,0.9 0 1,0 -1.8,0M349.07,423.16a0.9,0.9 0 1,0 1.8,0a0.9,0.9 0 1,0 -1.8,0M353.39,423.51a0.9,0.9 0 1,0 1.8,0a0.9,0.9 0 1,0 -1.8,0M357.7,423.86a0.9,0.9 0 1,0 1.8,0a0.9,0.9 0 1,0 -1.8,0M362.02,424.21a0.9,0.9 0 1,0 1.8,0a0.9,0.9 0 1,0 -1.8,0M366.34,424.57a0.9,0.9 0 1,0 1.8,0a0.9,0.9 0 1,0 -1.8,0M370.65,424.92a0.9,0.9 0 1,0 1.8,0a0.9,0.9 0 1,0 -1.8,0M374.97,425.28a0.9,0.9 0 1,0 1.8,0a0.9,0.9 0 1,0 -1.8,0M379.28,425.64a0.9,0.9 0 1,0 1.8,0a0.9,0.9 0 1,0 -1.8,0M383.6,426a0.9,0.9 0 1,0 1.8,0a0.9,0.9 0 1,0 -1.8,0" fill="#b52a4a"/>
<path d="M167.8,318.75a0.9,0.9 0 1,0 1.8,0a0.9,0.9 0 1,0 -1.8,0M169.96,319.1a0.9,0.9 0 1,0 1.8,0a0.9,0.9 0 1,0 -1.8,0M172.12,320.15a0.9,0.9 0 1,0 1.8,0a0.9,0.9 0 1,0 -1.8,0M174.27,321.89a0.9,0.9 0 1,0 1.8,0a0.9,0.9 0 1,0 -1.8,0M176.43,324.34a0.9,0.9 0 1,0 1.8,0a0.9,0.9 0 1,0 -1.8,0M178.59,327.48a0.9,0.9 0 1,0 1.8,0a0.9,0.9 0 1,0 -1.8,0" fill="#3f7550"/>
<path d="M178.59,383.67a0.9,0.9 0 1,0 1.8,0a0.9,0.9 0 1,0 -1.8,0M180.75,389.59a0.9,0.9 0 1,0 1.8,0a0.9,0.9 0 1,0 -1.8,0M185.06,397.07a0.9,0.9 0 1,0 1.8,0a0.9,0.9 0 1,0 -1.8,0M189.38,401.87a0.9,0.9 0 1,0 1.8,0a0.9,0.9 0 1,0 -1.8,0M193.7,405.15a0.9,0.9 0 1,0 1.8,0a0.9,0.9 0 1,0 -1.8,0M198.01,407.53a0.9,0.9 0 1,0 1.8,0a0.9,0.9 0 1,0 -1.8,0M202.33,409.34a0.9,0.9 0 1,0 1.8,0a0.9,0.9 0 1,0 -1.8,0M206.64,410.74a0.9,0.9 0 1,0 1.8,0a0.9,0.9 0 1,0 -1.8,0M210.96,411.86a0.9,0.9 0 1,0 1.8,0a0.9,0.9 0 1,0 -1.8,0M215.28,412.78a0.9,0.9 0 1,0 1.8,0a0.9,0.9 0 1,0 -1.8,0M219.59,413.54a0.9,0.9 0 1,0 1.8,0a0.9,0.9 0 1,0 -1.8,0M223.91,414.18a0.9,0.9 0 1,0 1.8,0a0.9,0.9 0 1,0 -1.8,0M228.22,414.73a0.9,0.9 0 1,0 1.8,0a0.9,0.9 0 1,0 -1.8,0M232.54,415.21a0.9,0.9 0 1,0 1.8,0a0.9,0.9 0 1,0 -1.8,0M236.86,415.63a0.9,0.9 0 1,0 1.8,0a0.9,0.9 0 1,0 -1.8,0M241.17,416.02a0.9,0.9 0 1,0 1.8,0a0.9,0.9 0 1,0 -1.8,0M245.49,416.37a0.9,0.9 0 1,0 1.8,0a0.9,0.9 0 1,0 -1.8,0M249.8,416.7a0.9,0.9 0 1,0 1.8,0a0.9,0.9 0 1,0 -1.8,0M254.12,417.01a0.9,0.9 0 1,0 1.8,0a0.9,0.9 0 1,0 -1.8,0M258.44,417.31a0.9,0.9 0 1,0 1.8,0a0.9,0.9 0 1,0 -1.8,0M262.75,417.6a0.9,0.9 0 1,0 1.8,0a0.9,0.9 0 1,0 -1.8,0M267.07,417.88a0.9,0.9 0 1,0 1.8,0a0.9,0.9 0 1,0 -1.8,0M271.38,418.16a0.9,0.9 0 1,0 1.8,0a0.9,0.9 0 1,0 -1.8,0M275.7,418.44a0.9,0.9 0 1,0 1.8,0a0.9,0.9 0 1,0 -1.8,0M280.02,418.71a0.9,0.9 0 1,0 1.8,0a0.9,0.9 0 1,0 -1.8,0M284.33,418.99a0.9,0.9 0 1,0 1.8,0a0.9,0.9 0 1,0 -1.8,0M288.65,419.27a0.9,0.9 0 1,0 1.8,0a0.9,0.9 0 1,0 -1.8,0M292.96,419.56a0.9,0.9 0 1,0 1.8,0a0.9,0.9 0 1,0 -1.8,0M297.28,419.84a0.9,0.9 0 1,0 1.8,0a0.9,0.9 0 1,0 -1.8,0M301.6,420.13a0.9,0.9 0 1,0 1.8,0a0.9,0.9 0 1,0 -1.8,0M305.91,420.42a0.9,0.9 0 1,0 1.8,0a0.9,0.9 0 1,0 -1.8,0M310.23,420.72a0.9,0.9 0 1,0 1.8,0a0.9,0.9 0 1,0 -1.8,0M314.54,421.02a0.9,0.9 0 1,0 1.8,0a0.9,0.9 0 1,0 -1.8,0M318.86,421.32a0.9,0.9 0 1,0 1.8,0a0.9,0.9 0 1,0 -1.8,0M323.18,421.63a0.9,0.9 0 1,0 1.8,0a0.9,0.9 0 1,0 -1.8,0M327.49,421.94a0.9,0.9 0 1,0 1.8,0a0.9,0.9 0 1,0 -1.8,0M331.81,422.25a0.9,0.9 0 1,0 1.8,0a0.9,0.9 0 1,0 -1.8,0M336.12,422.56a0.9,0.9 0 1,0 1.8,0a0.9,0.9 0 1,0 -1.8,0M340.44,422.88a0.9,0.9 0 1,0 1.8,0a0.9,0.9 0 1,0 -1.8,0M344.76,423.19a0.9,0.9 0 1,0 1.8,0a0.9,0.9 0 1,0 -1.8,0M349.07,423.51a0.9,0.9 0 1,0 1.8,0a0.9,0.9 0 1,0 -1.8,0M353.39,423.83a0.9,0.9 0 1,0 1.8,0a0.9,0.9 0 1,0 -1.8,0M357.7,424.14a0.9,0.9 0 1,0 1.8,0a0.9,0.9 0 1,0 -1.8,0M362.02,424.46a0.9,0.9 0 1,0 1.8,0a0.9,0.9 0 1,0 -1.8,0M366.34,424.77a0.9,0.9 0 1,0 1.8,0a0.9,0.9 0 1,0 -1.8,0M370.65,425.08a0.9,0.9 0 1,0 1.8,0a0.9,0.9 0 1,0 -1.8,0M374.97,425.39a0.9,0.9 0 1,0 1.8,0a0.9,0.9 0 1,0 -1.8,0M379.28,425.7a0.9,0.9 0 1,0 1.8,0a0.9,0.9 0 1,0 -1.8,0M383.6,426a0.9,0.9 0 1,0 1.8,0a0.9,0.9 0 1,0 -1.8,0" fill="#3f7550"/>
<path d="M167.8,343.64a0.9,0.9 0 1,0 1.8,0a0.9,0.9 0 1,0 -1.8,0M169.96,344.02a0.9,0.9 0 1,0 1.8,0a0.9,0.9 0 1,0 -1.8,0M172.12,345.16a0.9,0.9 0 1,0 1.8,0a0.9,0.9 0 1,0 -1.8,0M174.27,347.06a0.9,0.9 0 1,0 1.8,0a0.9,0.9 0 1,0 -1.8,0M176.43,349.72a0.9,0.9 0 1,0 1.8,0a0.9,0.9 0 1,0 -1.8,0M178.59,353.13a0.9,0.9 0 1,0 1.8,0a0.9,0.9 0 1,0 -1.8,0" fill="#2e2eb0"/>
<path d="M178.59,396.49a0.9,0.9 0 1,0 1.8,0a0.9,0.9 0 1,0 -1.8,0M180.75,399.04a0.9,0.9 0 1,0 1.8,0a0.9,0.9 0 1,0 -1.8,0M185.06,404.28a0.9,0.9 0 1,0 1.8,0a0.9,0.9 0 1,0 -1.8,0M189.38,408.18a0.9,0.9 0 1,0 1.8,0a0.9,0.9 0 1,0 -1.8,0M193.7,410.84a0.9,0.9 0 1,0 1.8,0a0.9,0.9 0 1,0 -1.8,0M198.01,412.71a0.9,0.9 0 1,0 1.8,0a0.9,0.9 0 1,0 -1.8,0M202.33,414.08a0.9,0.9 0 1,0 1.8,0a0.9,0.9 0 1,0 -1.8,0M206.64,415.1a0.9,0.9 0 1,0 1.8,0a0.9,0.9 0 1,0 -1.8,0M210.96,415.88a0.9,0.9 0 1,0 1.8,0a0.9,0.9 0 1,0 -1.8,0M215.28,416.49a0.9,0.9 0 1,0 1.8,0a0.9,0.9 0 1,0 -1.8,0M219.59,416.97a0.9,0.9 0 1,0 1.8,0a0.9,0.9 0 1,0 -1.8,0M223.91,417.35a0.9,0.9 0 1,0 1.8,0a0.9,0.9 0 1,0 -1.8,0M228.22,417.67a0.9,0.9 0 1,0 1.8,0a0.9,0.9 0 1,0 -1.8,0M232.54,417.94a0.9,0.9 0 1,0 1.8,0a0.9,0.9 0 1,0 -1.8,0M236.86,418.18a0.9,0.9 0 1,0 1.8,0a0.9,0.9 0 1,0 -1.8,0M241.17,418.39a0.9,0.9 0 1,0 1.8,0a0.9,0.9 0 1,0 -1.8,0M245.49,418.58a0.9,0.9 0 1,0 1.8,0a0.9,0.9 0 1,0 -1.8,0M249.8,418.77a0.9,0.9 0 1,0 1.8,0a0.9,0.9 0 1,0 -1.8,0M254.12,418.95a0.9,0.9 0 1,0 1.8,0a0.9,0.9 0 1,0 -1.8,0M258.44,419.13a0.9,0.9 0 1,0 1.8,0a0.9,0.9 0 1,0 -1.8,0M262.75,419.31a0.9,0.9 0 1,0 1.8,0a0.9,0.9 0 1,0 -1.8,0M267.07,419.49a0.9,0.9 0 1,0 1.8,0a0.9,0.9 0 1,0 -1.8,0M271.38,419.68a0.9,0.9 0 1,0 1.8,0a0.9,0.9 0 1,0 -1.8,0M275.7,419.87a0.9,0.9 0 1,0 1.8,0a0.9,0.9 0 1,0 -1.8,0M280.02,420.07a0.9,0.9 0 1,0 1.8,0a0.9,0.9 0 1,0 -1.8,0M284.33,420.28a0.9,0.9 0 1,0 1.8,0a0.9,0.9 0 1,0 -1.8,0M288.65,420.5a0.9,0.9 0 1,0 1.8,0a0.9,0.9 0 1,0 -1.8,0M292.96,420.72a0.9,0.9 0 1,0 1.8,0a0.9,0.9 0 1,0 -1.8,0M297.28,420.95a0.9,0.9 0 1,0 1.8,0a0.9,0.9 0 1,0 -1.8,0M301.6,421.19a0.9,0.9 0 1,0 1.8,0a0.9,0.9 0 1,0 -1.8,0M305.91,421.43a0.9,0.9 0 1,0 1.8,0a0.9,0.9 0 1,0 -1.8,0M310.23,421.68a0.9,0.9 0 1,0 1.8,0a0.9,0.9 0 1,0 -1.8,0M314.54,421.93a0.9,0.9 0 1,0 1.8,0a0.9,0.9 0 1,0 -1.8,0M318.86,422.19a0.9,0.9 0 1,0 1.8,0a0.9,0.9 0 1,0 -1.8,0M323.18,422.45a0.9,0.9 0 1,0 1.8,0a0.9,0.9 0 1,0 -1.8,0M327.49,422.71a0.9,0.9 0 1,0 1.8,0a0.9,0.9 0 1,0 -1.8,0M331.81,422.98a0.9,0.9 0 1,0 1.8,0a0.9,0.9 0 1,0 -1.8,0M336.12,423.24a0.9,0.9 0 1,0 1.8,0a0.9,0.9 0 1,0 -1.8,0M340.44,423.51a0.9,0.9 0 1,0 1.8,0a0.9,0.9 0 1,0 -1.8,0M344.76,423.78a0.9,0.9 0 1,0 1.8,0a0.9,0.9 0 1,0 -1.8,0M349.07,424.04a0.9,0.9 0 1,0 1.8,0a0.9,0.9 0 1,0 -1.8,0M353.39,424.3a0.9,0.9 0 1,0 1.8,0a0.9,0.9 0 1,0 -1.8,0M357.7,424.56a0.9,0.9 0 1,0 1.8,0a0.9,0.9 0 1,0 -1.8,0M362.02,424.82a0.9,0.9 0 1,0 1.8,0a0.9,0.9 0 1,0 -1.8,0M366.34,425.07a0.9,0.9 0 1,0 1.8,0a0.9,0.9 0 1,0 -1.8,0M370.65,425.31a0.9,0.9 0 1,0 1.8,0a0.9,0.9 0 1,0 -1.8,0M374.97,425.55a0.9,0.9 0 1,0 1.8,0a0.9,0.9 0 1,0 -1.8,0M379.28,425.78a0.9,0.9 0 1,0 1.8,0a0.9,0.9 0 1,0 -1.8,0M383.6,426a0.9,0.9 0 1,0 1.8,0a0.9,0.9 0 1,0 -1.8,0" fill="#2e2eb0"/>
<path d="M167.8,362.11a0.9,0.9 0 1,0 1.8,0a0.9,0.9 0 1,0 -1.8,0M169.96,362.41a0.9,0.9 0 1,0 1.8,0a0.9,0.9 0 1,0 -1.8,0M172.12,363.3a0.9,0.9 0 1,0 1.8,0a0.9,0.9 0 1,0 -1.8,0M174.27,364.79a0.9,0.9 0 1,0 1.8,0a0.9,0.9 0 1,0 -1.8,0M176.43,366.88a0.9,0.9 0 1,0 1.8,0a0.9,0.9 0 1,0 -1.8,0M178.59,369.55a0.9,0.9 0 1,0 1.8,0a0.9,0.9 0 1,0 -1.8,0" fill="#744084"/>
<path d="M178.59,401.63a0.9,0.9 0 1,0 1.8,0a0.9,0.9 0 1,0 -1.8,0M180.75,403.4a0.9,0.9 0 1,0 1.8,0a0.9,0.9 0 1,0 -1.8,0M185.06,408.22a0.9,0.9 0 1,0 1.8,0a0.9,0.9 0 1,0 -1.8,0M189.38,411.54a0.9,0.9 0 1,0 1.8,0a0.9,0.9 0 1,0 -1.8,0M193.7,413.76a0.9,0.9 0 1,0 1.8,0a0.9,0.9 0 1,0 -1.8,0M198.01,415.33a0.9,0.9 0 1,0 1.8,0a0.9,0.9 0 1,0 -1.8,0M202.33,416.47a0.9,0.9 0 1,0 1.8,0a0.9,0.9 0 1,0 -1.8,0M206.64,417.32a0.9,0.9 0 1,0 1.8,0a0.9,0.9 0 1,0 -1.8,0M210.96,417.97a0.9,0.9 0 1,0 1.8,0a0.9,0.9 0 1,0 -1.8,0M215.28,418.47a0.9,0.9 0 1,0 1.8,0a0.9,0.9 0 1,0 -1.8,0M219.59,418.87a0.9,0.9 0 1,0 1.8,0a0.9,0.9 0 1,0 -1.8,0M223.91,419.19a0.9,0.9 0 1,0 1.8,0a0.9,0.9 0 1,0 -1.8,0M228.22,419.45a0.9,0.9 0 1,0 1.8,0a0.9,0.9 0 1,0 -1.8,0M232.54,419.67a0.9,0.9 0 1,0 1.8,0a0.9,0.9 0 1,0 -1.8,0M236.86,419.87a0.9,0.9 0 1,0 1.8,0a0.9,0.9 0 1,0 -1.8,0M241.17,420.04a0.9,0.9 0 1,0 1.8,0a0.9,0.9 0 1,0 -1.8,0M245.49,420.19a0.9,0.9 0 1,0 1.8,0a0.9,0.9 0 1,0 -1.8,0M249.8,420.34a0.9,0.9 0 1,0 1.8,0a0.9,0.9 0 1,0 -1.8,0M254.12,420.48a0.9,0.9 0 1,0 1.8,0a0.9,0.9 0 1,0 -1.8,0M258.44,420.62a0.9,0.9 0 1,0 1.8,0a0.9,0.9 0 1,0 -1.8,0M262.75,420.77a0.9,0.9 0 1,0 1.8,0a0.9,0.9 0 1,0 -1.8,0M267.07,420.91a0.9,0.9 0 1,0 1.8,0a0.9,0.9 0 1,0 -1.8,0M271.38,421.05a0.9,0.9 0 1,0 1.8,0a0.9,0.9 0 1,0 -1.8,0M275.7,421.21a0.9,0.9 0 1,0 1.8,0a0.9,0.9 0 1,0 -1.8,0M280.02,421.36a0.9,0.9 0 1,0 1.8,0a0.9,0.9 0 1,0 -1.8,0M284.33,421.52a0.9,0.9 0 1,0 1.8,0a0.9,0.9 0 1,0 -1.8,0M288.65,421.69a0.9,0.9 0 1,0 1.8,0a0.9,0.9 0 1,0 -1.8,0M292.96,421.86a0.9,0.9 0 1,0 1.8,0a0.9,0.9 0 1,0 -1.8,0M297.28,422.04a0.9,0.9 0 1,0 1.8,0a0.9,0.9 0 1,0 -1.8,0M301.6,422.22a0.9,0.9 0 1,0 1.8,0a0.9,0.9 0 1,0 -1.8,0M305.91,422.41a0.9,0.9 0 1,0 1.8,0a0.9,0.9 0 1,0 -1.8,0M310.23,422.6a0.9,0.9 0 1,0 1.8,0a0.9,0.9 0 1,0 -1.8,0M314.54,422.8a0.9,0.9 0 1,0 1.8,0a0.9,0.9 0 1,0 -1.8,0M318.86,423a0.9,0.9 0 1,0 1.8,0a0.9,0.9 0 1,0 -1.8,0M323.18,423.21a0.9,0.9 0 1,0 1.8,0a0.9,0.9 0 1,0 -1.8,0M327.49,423.41a0.9,0.9 0 1,0 1.8,0a0.9,0.9 0 1,0 -1.8,0M331.81,423.62a0.9,0.9 0 1,0 1.8,0a0.9,0.9 0 1,0 -1.8,0M336.12,423.83a0.9,0.9 0 1,0 1.8,0a0.9,0.9 0 1,0 -1.8,0M340.44,424.04a0.9,0.9 0 1,0 1.8,0a0.9,0.9 0 1,0 -1.8,0M344.76,424.24a0.9,0.9 0 1,0 1.8,0a0.9,0.9 0 1,0 -1.8,0M349.07,424.45a0.9,0.9 0 1,0 1.8,0a0.9,0.9 0 1,0 -1.8,0M353.39,424.66a0.9,0.9 0 1,0 1.8,0a0.9,0.9 0 1,0 -1.8,0M357.7,424.86a0.9,0.9 0 1,0 1.8,0a0.9,0.9 0 1,0 -1.8,0M362.02,425.06a0.9,0.9 0 1,0 1.8,0a0.9,0.9 0 1,0 -1.8,0M366.34,425.26a0.9,0.9 0 1,0 1.8,0a0.9,0.9 0 1,0 -1.8,0M370.65,425.45a0.9,0.9 0 1,0 1.8,0a0.9,0.9 0 1,0 -1.8,0M374.97,425.64a0.9,0.9 0 1,0 1.8,0a0.9,0.9 0 1,0 -1.8,0M379.28,425.82a0.9,0.9 0 1,0 1.8,0a0.9,0.9 0 1,0 -1.8,0M383.6,426a0.9,0.9 0 1,0 1.8,0a0.9,0.9 0 1,0 -1.8,0" fill="#744084"/>
<path d="M167.8,375.46a0.9,0.9 0 1,0 1.8,0a0.9,0.9 0 1,0 -1.8,0M169.96,375.8a0.9,0.9 0 1,0 1.8,0a0.9,0.9 0 1,0 -1.8,0M172.12,376.85a0.9,0.9 0 1,0 1.8,0a0.9,0.9 0 1,0 -1.8,0M174.27,378.6a0.9,0.9 0 1,0 1.8,0a0.9,0.9 0 1,0 -1.8,0M176.43,381.04a0.9,0.9 0 1,0 1.8,0a0.9,0.9 0 1,0 -1.8,0M178.59,384.18a0.9,0.9 0 1,0 1.8,0a0.9,0.9 0 1,0 -1.8,0" fill="#1a1a1a"/>
<path d="M178.59,408.55a0.9,0.9 0 1,0 1.8,0a0.9,0.9 0 1,0 -1.8,0M180.75,409.57a0.9,0.9 0 1,0 1.8,0a0.9,0.9 0 1,0 -1.8,0M185.06,413.25a0.9,0.9 0 1,0 1.8,0a0.9,0.9 0 1,0 -1.8,0M189.38,415.65a0.9,0.9 0 1,0 1.8,0a0.9,0.9 0 1,0 -1.8,0M193.7,417.26a0.9,0.9 0 1,0 1.8,0a0.9,0.9 0 1,0 -1.8,0M198.01,418.39a0.9,0.9 0 1,0 1.8,0a0.9,0.9 0 1,0 -1.8,0M202.33,419.22a0.9,0.9 0 1,0 1.8,0a0.9,0.9 0 1,0 -1.8,0M206.64,419.84a0.9,0.9 0 1,0 1.8,0a0.9,0.9 0 1,0 -1.8,0M210.96,420.32a0.9,0.9 0 1,0 1.8,0a0.9,0.9 0 1,0 -1.8,0M215.28,420.69a0.9,0.9 0 1,0 1.8,0a0.9,0.9 0 1,0 -1.8,0M219.59,420.99a0.9,0.9 0 1,0 1.8,0a0.9,0.9 0 1,0 -1.8,0M223.91,421.23a0.9,0.9 0 1,0 1.8,0a0.9,0.9 0 1,0 -1.8,0M228.22,421.42a0.9,0.9 0 1,0 1.8,0a0.9,0.9 0 1,0 -1.8,0M232.54,421.59a0.9,0.9 0 1,0 1.8,0a0.9,0.9 0 1,0 -1.8,0M236.86,421.73a0.9,0.9 0 1,0 1.8,0a0.9,0.9 0 1,0 -1.8,0M241.17,421.86a0.9,0.9 0 1,0 1.8,0a0.9,0.9 0 1,0 -1.8,0M245.49,421.98a0.9,0.9 0 1,0 1.8,0a0.9,0.9 0 1,0 -1.8,0M249.8,422.09a0.9,0.9 0 1,0 1.8,0a0.9,0.9 0 1,0 -1.8,0M254.12,422.19a0.9,0.9 0 1,0 1.8,0a0.9,0.9 0 1,0 -1.8,0M258.44,422.29a0.9,0.9 0 1,0 1.8,0a0.9,0.9 0 1,0 -1.8,0M262.75,422.39a0.9,0.9 0 1,0 1.8,0a0.9,0.9 0 1,0 -1.8,0M267.07,422.49a0.9,0.9 0 1,0 1.8,0a0.9,0.9 0 1,0 -1.8,0M271.38,422.59a0.9,0.9 0 1,0 1.8,0a0.9,0.9 0 1,0 -1.8,0M275.7,422.69a0.9,0.9 0 1,0 1.8,0a0.9,0.9 0 1,0 -1.8,0M280.02,422.8a0.9,0.9 0 1,0 1.8,0a0.9,0.9 0 1,0 -1.8,0M284.33,422.91a0.9,0.9 0 1,0 1.8,0a0.9,0.9 0 1,0 -1.8,0M288.65,423.03a0.9,0.9 0 1,0 1.8,0a0.9,0.9 0 1,0 -1.8,0M292.96,423.14a0.9,0.9 0 1,0 1.8,0a0.9,0.9 0 1,0 -1.8,0M297.28,423.26a0.9,0.9 0 1,0 1.8,0a0.9,0.9 0 1,0 -1.8,0M301.6,423.39a0.9,0.9 0 1,0 1.8,0a0.9,0.9 0 1,0 -1.8,0M305.91,423.51a0.9,0.9 0 1,0 1.8,0a0.9,0.9 0 1,0 -1.8,0M310.23,423.64a0.9,0.9 0 1,0 1.8,0a0.9,0.9 0 1,0 -1.8,0M314.54,423.78a0.9,0.9 0 1,0 1.8,0a0.9,0.9 0 1,0 -1.8,0M318.86,423.91a0.9,0.9 0 1,0 1.8,0a0.9,0.9 0 1,0 -1.8,0M323.18,424.05a0.9,0.9 0 1,0 1.8,0a0.9,0.9 0 1,0 -1.8,0M327.49,424.19a0.9,0.9 0 1,0 1.8,0a0.9,0.9 0 1,0 -1.8,0M331.81,424.33a0.9,0.9 0 1,0 1.8,0a0.9,0.9 0 1,0 -1.8,0M336.12,424.48a0.9,0.9 0 1,0 1.8,0a0.9,0.9 0 1,0 -1.8,0M340.44,424.62a0.9,0.9 0 1,0 1.8,0a0.9,0.9 0 1,0 -1.8,0M344.76,424.76a0.9,0.9 0 1,0 1.8,0a0.9,0.9 0 1,0 -1.8,0M349.07,424.91a0.9,0.9 0 1,0 1.8,0a0.9,0.9 0 1,0 -1.8,0M353.39,425.05a0.9,0.9 0 1,0 1.8,0a0.9,0.9 0 1,0 -1.8,0M357.7,425.19a0.9,0.9 0 1,0 1.8,0a0.9,0.9 0 1,0 -1.8,0M362.02,425.33a0.9,0.9 0 1,0 1.8,0a0.9,0.9 0 1,0 -1.8,0M366.34,425.47a0.9,0.9 0 1,0 1.8,0a0.9,0.9 0 1,0 -1.8,0M370.65,425.61a0.9,0.9 0 1,0 1.8,0a0.9,0.9 0 1,0 -1.8,0M374.97,425.74a0.9,0.9 0 1,0 1.8,0a0.9,0.9 0 1,0 -1.8,0M379.28,425.87a0.9,0.9 0 1,0 1.8,0a0.9,0.9 0 1,0 -1.8,0M383.6,426a0.9,0.9 0 1,0 1.8,0a0.9,0.9 0 1,0 -1.8,0" fill="#1a1a1a"/>
<line x1="42.9" y1="134.9" x2="64.7" y2="134.9" stroke="#f04060" stroke-width="0.8" stroke-opacity="0.7"/>
<circle cx="53.8" cy="134.9" r="1.1" fill="#b52a4a"/>
<text y="137.8" class="lg"><tspan x="67.1" font-style="italic">t</tspan><tspan x="72.8" class="op">=</tspan><tspan x="82">0.5</tspan><tspan x="96.1" class="op2">×</tspan><tspan x="104.7">10</tspan><tspan x="112" y="133.6" class="sup">−3</tspan><tspan x="123.4" y="137.8" font-size="9.2">sec</tspan></text>
<line x1="42.9" y1="145.75" x2="64.7" y2="145.75" stroke="#50a060" stroke-width="0.8" stroke-opacity="0.7"/>
<circle cx="53.8" cy="145.75" r="1.1" fill="#3f7550"/>
<text y="148.65" class="lg"><tspan x="67.1" font-style="italic">t</tspan><tspan x="72.8" class="op">=</tspan><tspan x="82">1.0</tspan><tspan x="96.1" class="op2">×</tspan><tspan x="104.7">10</tspan><tspan x="112" y="144.45" class="sup">−3</tspan><tspan x="123.4" y="148.65" font-size="9.2">sec</tspan></text>
<line x1="42.9" y1="156.6" x2="64.7" y2="156.6" stroke="#4848f0" stroke-width="0.8" stroke-opacity="0.7"/>
<circle cx="53.8" cy="156.6" r="1.1" fill="#2e2eb0"/>
<text y="159.5" class="lg"><tspan x="67.1" font-style="italic">t</tspan><tspan x="72.8" class="op">=</tspan><tspan x="82">1.5</tspan><tspan x="96.1" class="op2">×</tspan><tspan x="104.7">10</tspan><tspan x="112" y="155.3" class="sup">−3</tspan><tspan x="123.4" y="159.5" font-size="9.2">sec</tspan></text>
<line x1="42.9" y1="167.45" x2="64.7" y2="167.45" stroke="#b878c8" stroke-width="0.8" stroke-opacity="0.7"/>
<circle cx="53.8" cy="167.45" r="1.1" fill="#744084"/>
<text y="170.35" class="lg"><tspan x="67.1" font-style="italic">t</tspan><tspan x="72.8" class="op">=</tspan><tspan x="82">2.0</tspan><tspan x="96.1" class="op2">×</tspan><tspan x="104.7">10</tspan><tspan x="112" y="166.15" class="sup">−3</tspan><tspan x="123.4" y="170.35" font-size="9.2">sec</tspan></text>
<line x1="42.9" y1="178.3" x2="64.7" y2="178.3" stroke="#383838" stroke-width="0.8" stroke-opacity="0.7"/>
<circle cx="53.8" cy="178.3" r="1.1" fill="#1a1a1a"/>
<text y="181.2" class="lg"><tspan x="67.1" font-style="italic">t</tspan><tspan x="72.8" class="op">=</tspan><tspan x="82">2.5</tspan><tspan x="96.1" class="op2">×</tspan><tspan x="104.7">10</tspan><tspan x="112" y="177" class="sup">−3</tspan><tspan x="123.4" y="181.2" font-size="9.2">sec</tspan></text>
<line x1="283.3" y1="258.8" x2="305.3" y2="258.8" stroke="#f04060" stroke-width="0.8" stroke-opacity="0.7"/>
<circle cx="294.3" cy="258.8" r="1.1" fill="#b52a4a"/>
<text y="261.7" class="lg"><tspan x="308" font-style="italic">t</tspan><tspan x="313.7" class="op">=</tspan><tspan x="322.9">0.5</tspan><tspan x="337" class="op2">×</tspan><tspan x="345.6">10</tspan><tspan x="352.9" y="257.5" class="sup">−3</tspan><tspan x="364.3" y="261.7" font-size="9.2">sec</tspan></text>
<line x1="283.3" y1="269.7" x2="305.3" y2="269.7" stroke="#50a060" stroke-width="0.8" stroke-opacity="0.7"/>
<circle cx="294.3" cy="269.7" r="1.1" fill="#3f7550"/>
<text y="272.6" class="lg"><tspan x="308" font-style="italic">t</tspan><tspan x="313.7" class="op">=</tspan><tspan x="322.9">1.0</tspan><tspan x="337" class="op2">×</tspan><tspan x="345.6">10</tspan><tspan x="352.9" y="268.4" class="sup">−3</tspan><tspan x="364.3" y="272.6" font-size="9.2">sec</tspan></text>
<line x1="283.3" y1="280.6" x2="305.3" y2="280.6" stroke="#4848f0" stroke-width="0.8" stroke-opacity="0.7"/>
<circle cx="294.3" cy="280.6" r="1.1" fill="#2e2eb0"/>
<text y="283.5" class="lg"><tspan x="308" font-style="italic">t</tspan><tspan x="313.7" class="op">=</tspan><tspan x="322.9">1.5</tspan><tspan x="337" class="op2">×</tspan><tspan x="345.6">10</tspan><tspan x="352.9" y="279.3" class="sup">−3</tspan><tspan x="364.3" y="283.5" font-size="9.2">sec</tspan></text>
<line x1="283.3" y1="291.5" x2="305.3" y2="291.5" stroke="#b878c8" stroke-width="0.8" stroke-opacity="0.7"/>
<circle cx="294.3" cy="291.5" r="1.1" fill="#744084"/>
<text y="294.4" class="lg"><tspan x="308" font-style="italic">t</tspan><tspan x="313.7" class="op">=</tspan><tspan x="322.9">2.0</tspan><tspan x="337" class="op2">×</tspan><tspan x="345.6">10</tspan><tspan x="352.9" y="290.2" class="sup">−3</tspan><tspan x="364.3" y="294.4" font-size="9.2">sec</tspan></text>
<line x1="283.3" y1="302.4" x2="305.3" y2="302.4" stroke="#383838" stroke-width="0.8" stroke-opacity="0.7"/>
<circle cx="294.3" cy="302.4" r="1.1" fill="#1a1a1a"/>
<text y="305.3" class="lg"><tspan x="308" font-style="italic">t</tspan><tspan x="313.7" class="op">=</tspan><tspan x="322.9">2.5</tspan><tspan x="337" class="op2">×</tspan><tspan x="345.6">10</tspan><tspan x="352.9" y="301.1" class="sup">−3</tspan><tspan x="364.3" y="305.3" font-size="9.2">sec</tspan></text>
<text x="186.3" y="69.3" class="cs">Consolidation</text>
<line x1="213" y1="74.5" x2="213" y2="168" stroke="#555" stroke-width="1"/>
<path d="M211.6,167.5 L214.4,167.5 L213,171.5 Z" fill="#111"/>
<text x="453.7" y="30.3" class="cs">Consolidation</text>
<line x1="480.5" y1="33.8" x2="480.5" y2="164.5" stroke="#555" stroke-width="1"/>
<path d="M479.1,164.3 L481.9,164.3 L480.5,168.2 Z" fill="#111"/>
<text y="8.9" class="tk"><tspan x="35.6" y="9.4" font-size="8">×</tspan><tspan x="42.2" y="8.9">10</tspan><tspan x="52.3" y="4.9" font-size="6.6">-5</tspan></text>
<text y="215.9" class="al"><tspan x="128.8" font-style="italic">y</tspan><tspan x="139.8">[</tspan><tspan x="142.5">m</tspan><tspan x="151">]</tspan></text>
<text y="215.9" class="al"><tspan x="398.1" font-style="italic">y</tspan><tspan x="409.1">[</tspan><tspan x="411.8">m</tspan><tspan x="420.3">]</tspan></text>
<text y="450.6" class="al"><tspan x="263.6" font-style="italic">y</tspan><tspan x="274.6">[</tspan><tspan x="277.3">m</tspan><tspan x="285.8">]</tspan></text>
<text x="143.1" y="233" class="cap" text-anchor="middle">(a)</text>
<text x="413.4" y="233" class="cap" text-anchor="middle">(b)</text>
<text x="278.1" y="467.6" class="cap" text-anchor="middle">(c)</text>
<text transform="translate(9.3,140.8) rotate(-90)" class="al"><tspan x="0" >(</tspan><tspan x="4.3" >1</tspan><tspan x="13" >−</tspan><tspan x="23.3" font-style="italic">d</tspan><tspan x="30" >)</tspan><tspan x="40.6" font-weight="bold" font-style="italic" font-size="13.5">u</tspan><tspan x="49.6" font-style="italic" font-size="8.5" y="2">s</tspan><tspan x="64.3" y="0">[</tspan><tspan x="66.5" >m</tspan><tspan x="75.3" >]</tspan></text>
<text transform="translate(9.3,106.6) rotate(-90) scale(1.2,1)" class="nm">‖</text>
<text transform="translate(9.3,88) rotate(-90) scale(1.2,1)" class="nm">‖</text>
<text transform="translate(275.6,119.6) rotate(-90)" class="al"><tspan x="0" font-style="italic">p</tspan><tspan x="6.5" font-style="italic" font-size="9.5" y="1.6">f</tspan><tspan x="15.8" y="0">[Pa]</tspan></text>
<text transform="translate(142.1,363.4) rotate(-90)" class="al"><tspan x="5" font-weight="bold" font-style="italic">w</tspan><tspan x="15" font-style="italic" font-size="8.5" y="2">f</tspan><tspan x="30.8" y="0">[</tspan><tspan x="32.6" >m</tspan><tspan x="42.6" font-size="14">/</tspan><tspan x="48.4" >s</tspan><tspan x="51.7" >]</tspan></text>
<text transform="translate(142.1,365.3) rotate(-90) scale(1.2,1)" class="nm">‖</text>
<text transform="translate(142.1,344.1) rotate(-90) scale(1.2,1)" class="nm">‖</text>
</svg>
</body></html>
